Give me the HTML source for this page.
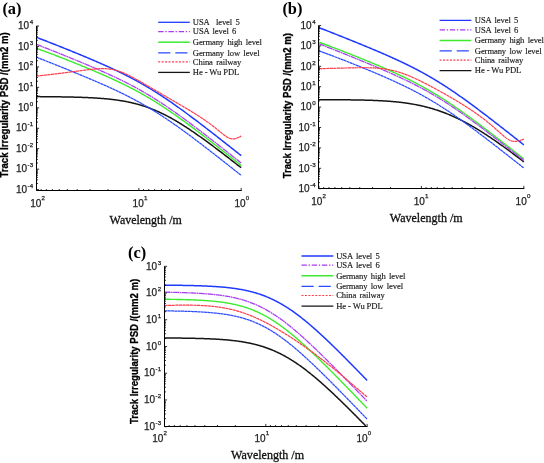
<!DOCTYPE html>
<html><head><meta charset="utf-8"><style>
html,body{margin:0;padding:0;background:#fff;}
svg{display:block;}
.tk{font-family:"Liberation Sans",sans-serif;font-size:10px;fill:#222;stroke:#222;stroke-width:0.25px;}
.sup{font-size:6.2px;}
.lg{font-family:"Liberation Serif",serif;font-size:8.6px;fill:#1a1a1a;stroke:#1a1a1a;stroke-width:0.15px;word-spacing:1.3px;letter-spacing:-0.1px;}
.pl{font-family:"Liberation Serif",serif;font-size:16.4px;font-weight:bold;fill:#000;}
.xt{font-family:"Liberation Serif",serif;font-size:12.4px;fill:#111;stroke:#111;stroke-width:0.3px;}
.yt{font-family:"Liberation Sans",sans-serif;font-size:10.5px;font-weight:bold;fill:#000;stroke:#000;stroke-width:0.3px;}
</style></head><body>
<svg width="544" height="463" viewBox="0 0 544 463">
<rect width="544" height="463" fill="#fff"/>
<polyline points="36.50,96.59 37.18,96.60 37.87,96.60 38.55,96.61 39.24,96.61 39.92,96.62 40.61,96.63 41.29,96.63 41.98,96.64 42.66,96.64 43.35,96.65 44.03,96.66 44.72,96.66 45.40,96.67 46.08,96.68 46.77,96.68 47.45,96.69 48.14,96.70 48.82,96.71 49.51,96.71 50.19,96.72 50.88,96.73 51.56,96.74 52.25,96.75 52.93,96.75 53.62,96.76 54.30,96.77 54.98,96.78 55.67,96.79 56.35,96.80 57.04,96.81 57.72,96.82 58.41,96.83 59.09,96.84 59.78,96.85 60.46,96.86 61.15,96.87 61.83,96.88 62.52,96.89 63.20,96.91 63.88,96.92 64.57,96.93 65.25,96.94 65.94,96.96 66.62,96.97 67.31,96.98 67.99,97.00 68.68,97.01 69.36,97.03 70.05,97.04 70.73,97.06 71.42,97.07 72.10,97.09 72.78,97.11 73.47,97.12 74.15,97.14 74.84,97.16 75.52,97.18 76.21,97.20 76.89,97.22 77.58,97.24 78.26,97.26 78.95,97.28 79.63,97.30 80.32,97.33 81.00,97.35 81.68,97.37 82.37,97.40 83.05,97.42 83.74,97.45 84.42,97.48 85.11,97.50 85.79,97.53 86.48,97.56 87.16,97.59 87.85,97.62 88.53,97.65 89.22,97.68 89.90,97.72 90.58,97.75 91.27,97.79 91.95,97.82 92.64,97.86 93.32,97.90 94.01,97.94 94.69,97.98 95.38,98.02 96.06,98.06 96.75,98.10 97.43,98.15 98.12,98.19 98.80,98.24 99.48,98.29 100.17,98.34 100.85,98.39 101.54,98.44 102.22,98.50 102.91,98.55 103.59,98.61 104.28,98.67 104.96,98.73 105.65,98.79 106.33,98.85 107.02,98.92 107.70,98.99 108.38,99.05 109.07,99.12 109.75,99.20 110.44,99.27 111.12,99.35 111.81,99.43 112.49,99.51 113.18,99.59 113.86,99.67 114.55,99.76 115.23,99.85 115.92,99.94 116.60,100.03 117.28,100.13 117.97,100.22 118.65,100.32 119.34,100.43 120.02,100.53 120.71,100.64 121.39,100.75 122.08,100.86 122.76,100.98 123.45,101.10 124.13,101.22 124.82,101.34 125.50,101.47 126.18,101.60 126.87,101.73 127.55,101.87 128.24,102.01 128.92,102.15 129.61,102.30 130.29,102.44 130.98,102.60 131.66,102.75 132.35,102.91 133.03,103.07 133.72,103.24 134.40,103.41 135.08,103.58 135.77,103.76 136.45,103.93 137.14,104.12 137.82,104.30 138.51,104.49 139.19,104.69 139.88,104.89 140.56,105.09 141.25,105.29 141.93,105.50 142.62,105.72 143.30,105.93 143.98,106.16 144.67,106.38 145.35,106.61 146.04,106.84 146.72,107.08 147.41,107.32 148.09,107.56 148.78,107.81 149.46,108.07 150.15,108.32 150.83,108.59 151.52,108.85 152.20,109.12 152.88,109.39 153.57,109.67 154.25,109.95 154.94,110.24 155.62,110.53 156.31,110.82 156.99,111.12 157.68,111.42 158.36,111.73 159.05,112.04 159.73,112.35 160.42,112.67 161.10,112.99 161.78,113.32 162.47,113.65 163.15,113.98 163.84,114.32 164.52,114.66 165.21,115.00 165.89,115.35 166.58,115.71 167.26,116.06 167.95,116.42 168.63,116.79 169.32,117.15 170.00,117.52 170.68,117.90 171.37,118.28 172.05,118.66 172.74,119.04 173.42,119.43 174.11,119.82 174.79,120.22 175.48,120.62 176.16,121.02 176.85,121.42 177.53,121.83 178.22,122.24 178.90,122.66 179.58,123.07 180.27,123.49 180.95,123.91 181.64,124.34 182.32,124.77 183.01,125.20 183.69,125.63 184.38,126.07 185.06,126.51 185.75,126.95 186.43,127.40 187.12,127.84 187.80,128.29 188.48,128.74 189.17,129.20 189.85,129.65 190.54,130.11 191.22,130.57 191.91,131.04 192.59,131.50 193.28,131.97 193.96,132.44 194.65,132.91 195.33,133.38 196.02,133.86 196.70,134.33 197.38,134.81 198.07,135.29 198.75,135.77 199.44,136.26 200.12,136.74 200.81,137.23 201.49,137.72 202.18,138.21 202.86,138.70 203.55,139.19 204.23,139.69 204.92,140.18 205.60,140.68 206.28,141.18 206.97,141.68 207.65,142.18 208.34,142.68 209.02,143.19 209.71,143.69 210.39,144.20 211.08,144.71 211.76,145.21 212.45,145.72 213.13,146.23 213.82,146.75 214.50,147.26 215.18,147.77 215.87,148.29 216.55,148.80 217.24,149.32 217.92,149.83 218.61,150.35 219.29,150.87 219.98,151.39 220.66,151.91 221.35,152.43 222.03,152.95 222.72,153.47 223.40,153.99 224.08,154.52 224.77,155.04 225.45,155.57 226.14,156.09 226.82,156.62 227.51,157.14 228.19,157.67 228.88,158.20 229.56,158.73 230.25,159.26 230.93,159.78 231.62,160.31 232.30,160.84 232.98,161.37 233.67,161.91 234.35,162.44 235.04,162.97 235.72,163.50 236.41,164.03 237.09,164.57 237.78,165.10 238.46,165.63 239.15,166.17 239.83,166.70 240.52,167.24 241.20,167.77" fill="none" stroke="#151515" stroke-width="1.5" stroke-linejoin="round"/>
<polyline points="36.50,57.23 37.18,57.50 37.87,57.77 38.55,58.04 39.24,58.31 39.92,58.57 40.61,58.84 41.29,59.11 41.98,59.38 42.66,59.65 43.35,59.92 44.03,60.19 44.72,60.46 45.40,60.73 46.08,61.00 46.77,61.27 47.45,61.54 48.14,61.82 48.82,62.09 49.51,62.36 50.19,62.63 50.88,62.90 51.56,63.18 52.25,63.45 52.93,63.72 53.62,63.99 54.30,64.27 54.98,64.54 55.67,64.82 56.35,65.09 57.04,65.36 57.72,65.64 58.41,65.91 59.09,66.19 59.78,66.46 60.46,66.74 61.15,67.01 61.83,67.29 62.52,67.57 63.20,67.84 63.88,68.12 64.57,68.40 65.25,68.67 65.94,68.95 66.62,69.23 67.31,69.50 67.99,69.78 68.68,70.06 69.36,70.34 70.05,70.62 70.73,70.90 71.42,71.18 72.10,71.46 72.78,71.74 73.47,72.02 74.15,72.30 74.84,72.58 75.52,72.86 76.21,73.14 76.89,73.42 77.58,73.71 78.26,73.99 78.95,74.27 79.63,74.55 80.32,74.84 81.00,75.12 81.68,75.41 82.37,75.69 83.05,75.98 83.74,76.26 84.42,76.55 85.11,76.83 85.79,77.12 86.48,77.41 87.16,77.70 87.85,77.98 88.53,78.27 89.22,78.56 89.90,78.85 90.58,79.14 91.27,79.43 91.95,79.72 92.64,80.02 93.32,80.31 94.01,80.60 94.69,80.90 95.38,81.19 96.06,81.48 96.75,81.78 97.43,82.08 98.12,82.37 98.80,82.67 99.48,82.97 100.17,83.27 100.85,83.57 101.54,83.87 102.22,84.17 102.91,84.47 103.59,84.78 104.28,85.08 104.96,85.38 105.65,85.69 106.33,86.00 107.02,86.30 107.70,86.61 108.38,86.92 109.07,87.23 109.75,87.54 110.44,87.86 111.12,88.17 111.81,88.48 112.49,88.80 113.18,89.12 113.86,89.43 114.55,89.75 115.23,90.07 115.92,90.39 116.60,90.72 117.28,91.04 117.97,91.37 118.65,91.69 119.34,92.02 120.02,92.35 120.71,92.68 121.39,93.01 122.08,93.35 122.76,93.68 123.45,94.02 124.13,94.36 124.82,94.70 125.50,95.04 126.18,95.38 126.87,95.72 127.55,96.07 128.24,96.42 128.92,96.77 129.61,97.12 130.29,97.47 130.98,97.82 131.66,98.18 132.35,98.54 133.03,98.90 133.72,99.26 134.40,99.62 135.08,99.99 135.77,100.36 136.45,100.73 137.14,101.10 137.82,101.47 138.51,101.84 139.19,102.22 139.88,102.60 140.56,102.98 141.25,103.37 141.93,103.75 142.62,104.14 143.30,104.53 143.98,104.92 144.67,105.31 145.35,105.71 146.04,106.10 146.72,106.50 147.41,106.91 148.09,107.31 148.78,107.72 149.46,108.12 150.15,108.53 150.83,108.95 151.52,109.36 152.20,109.78 152.88,110.19 153.57,110.62 154.25,111.04 154.94,111.46 155.62,111.89 156.31,112.32 156.99,112.75 157.68,113.18 158.36,113.62 159.05,114.06 159.73,114.50 160.42,114.94 161.10,115.38 161.78,115.82 162.47,116.27 163.15,116.72 163.84,117.17 164.52,117.63 165.21,118.08 165.89,118.54 166.58,119.00 167.26,119.46 167.95,119.92 168.63,120.38 169.32,120.85 170.00,121.32 170.68,121.79 171.37,122.26 172.05,122.73 172.74,123.20 173.42,123.68 174.11,124.16 174.79,124.64 175.48,125.12 176.16,125.60 176.85,126.08 177.53,126.57 178.22,127.06 178.90,127.54 179.58,128.03 180.27,128.53 180.95,129.02 181.64,129.51 182.32,130.01 183.01,130.50 183.69,131.00 184.38,131.50 185.06,132.00 185.75,132.50 186.43,133.00 187.12,133.51 187.80,134.01 188.48,134.52 189.17,135.03 189.85,135.53 190.54,136.04 191.22,136.55 191.91,137.06 192.59,137.58 193.28,138.09 193.96,138.60 194.65,139.12 195.33,139.63 196.02,140.15 196.70,140.67 197.38,141.19 198.07,141.70 198.75,142.22 199.44,142.74 200.12,143.27 200.81,143.79 201.49,144.31 202.18,144.83 202.86,145.36 203.55,145.88 204.23,146.41 204.92,146.93 205.60,147.46 206.28,147.99 206.97,148.52 207.65,149.04 208.34,149.57 209.02,150.10 209.71,150.63 210.39,151.16 211.08,151.69 211.76,152.22 212.45,152.76 213.13,153.29 213.82,153.82 214.50,154.35 215.18,154.89 215.87,155.42 216.55,155.96 217.24,156.49 217.92,157.03 218.61,157.56 219.29,158.10 219.98,158.63 220.66,159.17 221.35,159.71 222.03,160.25 222.72,160.78 223.40,161.32 224.08,161.86 224.77,162.40 225.45,162.94 226.14,163.47 226.82,164.01 227.51,164.55 228.19,165.09 228.88,165.63 229.56,166.17 230.25,166.71 230.93,167.25 231.62,167.79 232.30,168.34 232.98,168.88 233.67,169.42 234.35,169.96 235.04,170.50 235.72,171.04 236.41,171.59 237.09,172.13 237.78,172.67 238.46,173.21 239.15,173.76 239.83,174.30 240.52,174.84 241.20,175.38" fill="none" stroke="#2a4aff" stroke-width="1.25" stroke-dasharray="3 0.3" stroke-linejoin="round"/>
<polyline points="36.50,48.39 37.18,48.63 37.87,48.88 38.55,49.12 39.24,49.37 39.92,49.61 40.61,49.86 41.29,50.11 41.98,50.36 42.66,50.60 43.35,50.85 44.03,51.11 44.72,51.36 45.40,51.61 46.08,51.86 46.77,52.12 47.45,52.37 48.14,52.62 48.82,52.88 49.51,53.14 50.19,53.39 50.88,53.65 51.56,53.91 52.25,54.17 52.93,54.43 53.62,54.69 54.30,54.95 54.98,55.21 55.67,55.47 56.35,55.73 57.04,56.00 57.72,56.26 58.41,56.52 59.09,56.79 59.78,57.05 60.46,57.32 61.15,57.58 61.83,57.85 62.52,58.12 63.20,58.38 63.88,58.65 64.57,58.92 65.25,59.19 65.94,59.46 66.62,59.73 67.31,60.00 67.99,60.27 68.68,60.54 69.36,60.81 70.05,61.08 70.73,61.36 71.42,61.63 72.10,61.90 72.78,62.18 73.47,62.45 74.15,62.73 74.84,63.00 75.52,63.28 76.21,63.55 76.89,63.83 77.58,64.11 78.26,64.38 78.95,64.66 79.63,64.94 80.32,65.22 81.00,65.50 81.68,65.78 82.37,66.06 83.05,66.34 83.74,66.62 84.42,66.90 85.11,67.19 85.79,67.47 86.48,67.75 87.16,68.04 87.85,68.32 88.53,68.61 89.22,68.89 89.90,69.18 90.58,69.47 91.27,69.75 91.95,70.04 92.64,70.33 93.32,70.62 94.01,70.91 94.69,71.20 95.38,71.49 96.06,71.78 96.75,72.08 97.43,72.37 98.12,72.66 98.80,72.96 99.48,73.25 100.17,73.55 100.85,73.85 101.54,74.15 102.22,74.45 102.91,74.75 103.59,75.05 104.28,75.35 104.96,75.65 105.65,75.95 106.33,76.26 107.02,76.56 107.70,76.87 108.38,77.18 109.07,77.48 109.75,77.79 110.44,78.10 111.12,78.41 111.81,78.73 112.49,79.04 113.18,79.36 113.86,79.67 114.55,79.99 115.23,80.31 115.92,80.63 116.60,80.95 117.28,81.27 117.97,81.59 118.65,81.92 119.34,82.24 120.02,82.57 120.71,82.90 121.39,83.23 122.08,83.56 122.76,83.89 123.45,84.23 124.13,84.56 124.82,84.90 125.50,85.24 126.18,85.58 126.87,85.92 127.55,86.27 128.24,86.61 128.92,86.96 129.61,87.31 130.29,87.66 130.98,88.01 131.66,88.36 132.35,88.72 133.03,89.08 133.72,89.44 134.40,89.80 135.08,90.16 135.77,90.53 136.45,90.90 137.14,91.26 137.82,91.64 138.51,92.01 139.19,92.38 139.88,92.76 140.56,93.14 141.25,93.52 141.93,93.90 142.62,94.29 143.30,94.68 143.98,95.06 144.67,95.46 145.35,95.85 146.04,96.24 146.72,96.64 147.41,97.04 148.09,97.44 148.78,97.85 149.46,98.25 150.15,98.66 150.83,99.07 151.52,99.48 152.20,99.90 152.88,100.32 153.57,100.73 154.25,101.15 154.94,101.58 155.62,102.00 156.31,102.43 156.99,102.86 157.68,103.29 158.36,103.72 159.05,104.16 159.73,104.60 160.42,105.04 161.10,105.48 161.78,105.92 162.47,106.37 163.15,106.81 163.84,107.26 164.52,107.72 165.21,108.17 165.89,108.62 166.58,109.08 167.26,109.54 167.95,110.00 168.63,110.46 169.32,110.93 170.00,111.39 170.68,111.86 171.37,112.33 172.05,112.80 172.74,113.28 173.42,113.75 174.11,114.23 174.79,114.71 175.48,115.19 176.16,115.67 176.85,116.15 177.53,116.63 178.22,117.12 178.90,117.61 179.58,118.10 180.27,118.59 180.95,119.08 181.64,119.57 182.32,120.07 183.01,120.56 183.69,121.06 184.38,121.56 185.06,122.06 185.75,122.56 186.43,123.06 187.12,123.56 187.80,124.07 188.48,124.57 189.17,125.08 189.85,125.59 190.54,126.09 191.22,126.60 191.91,127.11 192.59,127.63 193.28,128.14 193.96,128.65 194.65,129.17 195.33,129.68 196.02,130.20 196.70,130.72 197.38,131.23 198.07,131.75 198.75,132.27 199.44,132.79 200.12,133.31 200.81,133.84 201.49,134.36 202.18,134.88 202.86,135.41 203.55,135.93 204.23,136.46 204.92,136.98 205.60,137.51 206.28,138.04 206.97,138.56 207.65,139.09 208.34,139.62 209.02,140.15 209.71,140.68 210.39,141.21 211.08,141.74 211.76,142.28 212.45,142.81 213.13,143.34 213.82,143.87 214.50,144.41 215.18,144.94 215.87,145.48 216.55,146.01 217.24,146.55 217.92,147.08 218.61,147.62 219.29,148.15 219.98,148.69 220.66,149.23 221.35,149.76 222.03,150.30 222.72,150.84 223.40,151.38 224.08,151.92 224.77,152.46 225.45,153.00 226.14,153.54 226.82,154.08 227.51,154.62 228.19,155.16 228.88,155.70 229.56,156.24 230.25,156.78 230.93,157.32 231.62,157.86 232.30,158.40 232.98,158.94 233.67,159.49 234.35,160.03 235.04,160.57 235.72,161.11 236.41,161.66 237.09,162.20 237.78,162.74 238.46,163.29 239.15,163.83 239.83,164.37 240.52,164.92 241.20,165.46" fill="none" stroke="#3cec2c" stroke-width="1.4" stroke-linejoin="round"/>
<polyline points="36.50,44.38 37.18,44.64 37.87,44.91 38.55,45.18 39.24,45.45 39.92,45.71 40.61,45.98 41.29,46.25 41.98,46.52 42.66,46.79 43.35,47.06 44.03,47.33 44.72,47.59 45.40,47.86 46.08,48.13 46.77,48.41 47.45,48.68 48.14,48.95 48.82,49.22 49.51,49.49 50.19,49.76 50.88,50.03 51.56,50.31 52.25,50.58 52.93,50.85 53.62,51.12 54.30,51.40 54.98,51.67 55.67,51.94 56.35,52.22 57.04,52.49 57.72,52.77 58.41,53.04 59.09,53.31 59.78,53.59 60.46,53.87 61.15,54.14 61.83,54.42 62.52,54.69 63.20,54.97 63.88,55.25 64.57,55.52 65.25,55.80 65.94,56.08 66.62,56.35 67.31,56.63 67.99,56.91 68.68,57.19 69.36,57.47 70.05,57.75 70.73,58.03 71.42,58.31 72.10,58.59 72.78,58.87 73.47,59.15 74.15,59.43 74.84,59.71 75.52,59.99 76.21,60.27 76.89,60.56 77.58,60.84 78.26,61.12 78.95,61.40 79.63,61.69 80.32,61.97 81.00,62.26 81.68,62.54 82.37,62.83 83.05,63.11 83.74,63.40 84.42,63.69 85.11,63.97 85.79,64.26 86.48,64.55 87.16,64.84 87.85,65.13 88.53,65.42 89.22,65.71 89.90,66.00 90.58,66.29 91.27,66.58 91.95,66.87 92.64,67.16 93.32,67.46 94.01,67.75 94.69,68.05 95.38,68.34 96.06,68.64 96.75,68.94 97.43,69.23 98.12,69.53 98.80,69.83 99.48,70.13 100.17,70.43 100.85,70.73 101.54,71.03 102.22,71.34 102.91,71.64 103.59,71.95 104.28,72.25 104.96,72.56 105.65,72.86 106.33,73.17 107.02,73.48 107.70,73.79 108.38,74.10 109.07,74.42 109.75,74.73 110.44,75.04 111.12,75.36 111.81,75.68 112.49,75.99 113.18,76.31 113.86,76.63 114.55,76.95 115.23,77.28 115.92,77.60 116.60,77.92 117.28,78.25 117.97,78.58 118.65,78.91 119.34,79.24 120.02,79.57 120.71,79.90 121.39,80.24 122.08,80.58 122.76,80.91 123.45,81.25 124.13,81.59 124.82,81.94 125.50,82.28 126.18,82.63 126.87,82.97 127.55,83.32 128.24,83.67 128.92,84.03 129.61,84.38 130.29,84.74 130.98,85.09 131.66,85.45 132.35,85.81 133.03,86.18 133.72,86.54 134.40,86.91 135.08,87.28 135.77,87.65 136.45,88.02 137.14,88.40 137.82,88.78 138.51,89.15 139.19,89.53 139.88,89.92 140.56,90.30 141.25,90.69 141.93,91.08 142.62,91.47 143.30,91.86 143.98,92.26 144.67,92.66 145.35,93.05 146.04,93.46 146.72,93.86 147.41,94.27 148.09,94.67 148.78,95.08 149.46,95.50 150.15,95.91 150.83,96.33 151.52,96.74 152.20,97.16 152.88,97.59 153.57,98.01 154.25,98.44 154.94,98.87 155.62,99.30 156.31,99.73 156.99,100.17 157.68,100.60 158.36,101.04 159.05,101.48 159.73,101.93 160.42,102.37 161.10,102.82 161.78,103.27 162.47,103.72 163.15,104.17 163.84,104.63 164.52,105.08 165.21,105.54 165.89,106.00 166.58,106.46 167.26,106.93 167.95,107.39 168.63,107.86 169.32,108.33 170.00,108.80 170.68,109.27 171.37,109.75 172.05,110.22 172.74,110.70 173.42,111.18 174.11,111.66 174.79,112.14 175.48,112.63 176.16,113.11 176.85,113.60 177.53,114.09 178.22,114.58 178.90,115.07 179.58,115.56 180.27,116.05 180.95,116.55 181.64,117.04 182.32,117.54 183.01,118.04 183.69,118.54 184.38,119.04 185.06,119.54 185.75,120.05 186.43,120.55 187.12,121.06 187.80,121.56 188.48,122.07 189.17,122.58 189.85,123.09 190.54,123.60 191.22,124.11 191.91,124.63 192.59,125.14 193.28,125.66 193.96,126.17 194.65,126.69 195.33,127.20 196.02,127.72 196.70,128.24 197.38,128.76 198.07,129.28 198.75,129.80 199.44,130.32 200.12,130.85 200.81,131.37 201.49,131.89 202.18,132.42 202.86,132.94 203.55,133.47 204.23,134.00 204.92,134.52 205.60,135.05 206.28,135.58 206.97,136.11 207.65,136.64 208.34,137.17 209.02,137.70 209.71,138.23 210.39,138.76 211.08,139.29 211.76,139.82 212.45,140.36 213.13,140.89 213.82,141.42 214.50,141.96 215.18,142.49 215.87,143.03 216.55,143.56 217.24,144.10 217.92,144.63 218.61,145.17 219.29,145.70 219.98,146.24 220.66,146.78 221.35,147.32 222.03,147.85 222.72,148.39 223.40,148.93 224.08,149.47 224.77,150.01 225.45,150.55 226.14,151.08 226.82,151.62 227.51,152.16 228.19,152.70 228.88,153.24 229.56,153.78 230.25,154.33 230.93,154.87 231.62,155.41 232.30,155.95 232.98,156.49 233.67,157.03 234.35,157.57 235.04,158.12 235.72,158.66 236.41,159.20 237.09,159.74 237.78,160.29 238.46,160.83 239.15,161.37 239.83,161.91 240.52,162.46 241.20,163.00" fill="none" stroke="#aa40f2" stroke-width="1.3" stroke-dasharray="6 0.5 1.6 0.5" stroke-linejoin="round"/>
<polyline points="36.50,37.37 37.18,37.63 37.87,37.89 38.55,38.15 39.24,38.42 39.92,38.68 40.61,38.94 41.29,39.20 41.98,39.47 42.66,39.73 43.35,39.99 44.03,40.26 44.72,40.52 45.40,40.79 46.08,41.05 46.77,41.32 47.45,41.59 48.14,41.85 48.82,42.12 49.51,42.39 50.19,42.66 50.88,42.93 51.56,43.19 52.25,43.46 52.93,43.73 53.62,44.00 54.30,44.27 54.98,44.54 55.67,44.81 56.35,45.08 57.04,45.36 57.72,45.63 58.41,45.90 59.09,46.17 59.78,46.44 60.46,46.72 61.15,46.99 61.83,47.26 62.52,47.54 63.20,47.81 63.88,48.09 64.57,48.36 65.25,48.64 65.94,48.91 66.62,49.19 67.31,49.47 67.99,49.74 68.68,50.02 69.36,50.30 70.05,50.57 70.73,50.85 71.42,51.13 72.10,51.41 72.78,51.69 73.47,51.97 74.15,52.25 74.84,52.53 75.52,52.81 76.21,53.09 76.89,53.37 77.58,53.65 78.26,53.93 78.95,54.21 79.63,54.50 80.32,54.78 81.00,55.06 81.68,55.35 82.37,55.63 83.05,55.92 83.74,56.20 84.42,56.49 85.11,56.77 85.79,57.06 86.48,57.35 87.16,57.64 87.85,57.92 88.53,58.21 89.22,58.50 89.90,58.79 90.58,59.08 91.27,59.37 91.95,59.66 92.64,59.96 93.32,60.25 94.01,60.54 94.69,60.84 95.38,61.13 96.06,61.43 96.75,61.72 97.43,62.02 98.12,62.32 98.80,62.62 99.48,62.91 100.17,63.21 100.85,63.52 101.54,63.82 102.22,64.12 102.91,64.42 103.59,64.73 104.28,65.03 104.96,65.34 105.65,65.64 106.33,65.95 107.02,66.26 107.70,66.57 108.38,66.88 109.07,67.19 109.75,67.50 110.44,67.82 111.12,68.13 111.81,68.45 112.49,68.77 113.18,69.08 113.86,69.40 114.55,69.72 115.23,70.05 115.92,70.37 116.60,70.69 117.28,71.02 117.97,71.35 118.65,71.67 119.34,72.00 120.02,72.34 120.71,72.67 121.39,73.00 122.08,73.34 122.76,73.68 123.45,74.01 124.13,74.35 124.82,74.70 125.50,75.04 126.18,75.38 126.87,75.73 127.55,76.08 128.24,76.43 128.92,76.78 129.61,77.13 130.29,77.49 130.98,77.85 131.66,78.21 132.35,78.57 133.03,78.93 133.72,79.29 134.40,79.66 135.08,80.03 135.77,80.40 136.45,80.77 137.14,81.14 137.82,81.52 138.51,81.90 139.19,82.28 139.88,82.66 140.56,83.04 141.25,83.43 141.93,83.82 142.62,84.21 143.30,84.60 143.98,85.00 144.67,85.39 145.35,85.79 146.04,86.19 146.72,86.59 147.41,87.00 148.09,87.41 148.78,87.81 149.46,88.23 150.15,88.64 150.83,89.05 151.52,89.47 152.20,89.89 152.88,90.31 153.57,90.74 154.25,91.16 154.94,91.59 155.62,92.02 156.31,92.45 156.99,92.89 157.68,93.32 158.36,93.76 159.05,94.20 159.73,94.64 160.42,95.09 161.10,95.53 161.78,95.98 162.47,96.43 163.15,96.88 163.84,97.34 164.52,97.79 165.21,98.25 165.89,98.71 166.58,99.17 167.26,99.63 167.95,100.10 168.63,100.57 169.32,101.03 170.00,101.50 170.68,101.98 171.37,102.45 172.05,102.93 172.74,103.40 173.42,103.88 174.11,104.36 174.79,104.84 175.48,105.32 176.16,105.81 176.85,106.30 177.53,106.78 178.22,107.27 178.90,107.76 179.58,108.25 180.27,108.75 180.95,109.24 181.64,109.74 182.32,110.23 183.01,110.73 183.69,111.23 184.38,111.73 185.06,112.23 185.75,112.74 186.43,113.24 187.12,113.75 187.80,114.25 188.48,114.76 189.17,115.27 189.85,115.78 190.54,116.29 191.22,116.80 191.91,117.31 192.59,117.82 193.28,118.34 193.96,118.85 194.65,119.37 195.33,119.89 196.02,120.40 196.70,120.92 197.38,121.44 198.07,121.96 198.75,122.48 199.44,123.00 200.12,123.53 200.81,124.05 201.49,124.57 202.18,125.10 202.86,125.62 203.55,126.15 204.23,126.67 204.92,127.20 205.60,127.73 206.28,128.25 206.97,128.78 207.65,129.31 208.34,129.84 209.02,130.37 209.71,130.90 210.39,131.43 211.08,131.96 211.76,132.49 212.45,133.03 213.13,133.56 213.82,134.09 214.50,134.63 215.18,135.16 215.87,135.69 216.55,136.23 217.24,136.76 217.92,137.30 218.61,137.84 219.29,138.37 219.98,138.91 220.66,139.44 221.35,139.98 222.03,140.52 222.72,141.06 223.40,141.59 224.08,142.13 224.77,142.67 225.45,143.21 226.14,143.75 226.82,144.29 227.51,144.83 228.19,145.37 228.88,145.91 229.56,146.45 230.25,146.99 230.93,147.53 231.62,148.07 232.30,148.61 232.98,149.15 233.67,149.69 234.35,150.23 235.04,150.78 235.72,151.32 236.41,151.86 237.09,152.40 237.78,152.94 238.46,153.49 239.15,154.03 239.83,154.57 240.52,155.11 241.20,155.66" fill="none" stroke="#1f3aff" stroke-width="1.5" stroke-linejoin="round"/>
<polyline points="36.50,76.16 37.18,76.08 37.87,76.00 38.55,75.92 39.24,75.84 39.92,75.76 40.61,75.67 41.29,75.59 41.98,75.51 42.66,75.43 43.35,75.35 44.03,75.27 44.72,75.19 45.40,75.11 46.08,75.03 46.77,74.95 47.45,74.87 48.14,74.79 48.82,74.70 49.51,74.62 50.19,74.54 50.88,74.46 51.56,74.38 52.25,74.30 52.93,74.22 53.62,74.13 54.30,74.05 54.98,73.97 55.67,73.89 56.35,73.80 57.04,73.72 57.72,73.64 58.41,73.55 59.09,73.47 59.78,73.38 60.46,73.30 61.15,73.22 61.83,73.13 62.52,73.05 63.20,72.96 63.88,72.87 64.57,72.79 65.25,72.70 65.94,72.61 66.62,72.53 67.31,72.44 67.99,72.35 68.68,72.26 69.36,72.17 70.05,72.09 70.73,72.00 71.42,71.91 72.10,71.82 72.78,71.73 73.47,71.64 74.15,71.55 74.84,71.46 75.52,71.37 76.21,71.28 76.89,71.19 77.58,71.09 78.26,71.00 78.95,70.91 79.63,70.82 80.32,70.73 81.00,70.64 81.68,70.55 82.37,70.46 83.05,70.37 83.74,70.28 84.42,70.20 85.11,70.11 85.79,70.02 86.48,69.94 87.16,69.85 87.85,69.77 88.53,69.69 89.22,69.61 89.90,69.53 90.58,69.45 91.27,69.37 91.95,69.30 92.64,69.23 93.32,69.16 94.01,69.10 94.69,69.04 95.38,68.98 96.06,68.92 96.75,68.87 97.43,68.83 98.12,68.78 98.80,68.75 99.48,68.71 100.17,68.69 100.85,68.67 101.54,68.65 102.22,68.64 102.91,68.64 103.59,68.65 104.28,68.66 104.96,68.68 105.65,68.71 106.33,68.75 107.02,68.79 107.70,68.85 108.38,68.91 109.07,68.98 109.75,69.07 110.44,69.16 111.12,69.26 111.81,69.38 112.49,69.50 113.18,69.64 113.86,69.78 114.55,69.94 115.23,70.10 115.92,70.28 116.60,70.47 117.28,70.67 117.97,70.88 118.65,71.09 119.34,71.32 120.02,71.56 120.71,71.81 121.39,72.07 122.08,72.33 122.76,72.61 123.45,72.89 124.13,73.18 124.82,73.48 125.50,73.79 126.18,74.10 126.87,74.42 127.55,74.75 128.24,75.08 128.92,75.42 129.61,75.76 130.29,76.11 130.98,76.46 131.66,76.82 132.35,77.18 133.03,77.55 133.72,77.92 134.40,78.29 135.08,78.67 135.77,79.05 136.45,79.43 137.14,79.81 137.82,80.20 138.51,80.59 139.19,80.98 139.88,81.37 140.56,81.76 141.25,82.15 141.93,82.55 142.62,82.95 143.30,83.34 143.98,83.74 144.67,84.14 145.35,84.54 146.04,84.94 146.72,85.34 147.41,85.74 148.09,86.14 148.78,86.54 149.46,86.94 150.15,87.34 150.83,87.74 151.52,88.14 152.20,88.54 152.88,88.94 153.57,89.34 154.25,89.74 154.94,90.14 155.62,90.54 156.31,90.94 156.99,91.34 157.68,91.74 158.36,92.14 159.05,92.54 159.73,92.94 160.42,93.34 161.10,93.74 161.78,94.13 162.47,94.53 163.15,94.93 163.84,95.33 164.52,95.72 165.21,96.12 165.89,96.52 166.58,96.91 167.26,97.31 167.95,97.71 168.63,98.10 169.32,98.50 170.00,98.89 170.68,99.29 171.37,99.69 172.05,100.08 172.74,100.48 173.42,100.87 174.11,101.27 174.79,101.67 175.48,102.07 176.16,102.46 176.85,102.86 177.53,103.26 178.22,103.66 178.90,104.06 179.58,104.45 180.27,104.85 180.95,105.25 181.64,105.66 182.32,106.06 183.01,106.46 183.69,106.86 184.38,107.27 185.06,107.67 185.75,108.08 186.43,108.49 187.12,108.89 187.80,109.30 188.48,109.71 189.17,110.13 189.85,110.54 190.54,110.96 191.22,111.37 191.91,111.79 192.59,112.21 193.28,112.63 193.96,113.06 194.65,113.48 195.33,113.91 196.02,114.34 196.70,114.77 197.38,115.21 198.07,115.65 198.75,116.09 199.44,116.53 200.12,116.98 200.81,117.43 201.49,117.88 202.18,118.34 202.86,118.80 203.55,119.26 204.23,119.73 204.92,120.20 205.60,120.67 206.28,121.15 206.97,121.64 207.65,122.12 208.34,122.62 209.02,123.11 209.71,123.61 210.39,124.12 211.08,124.63 211.76,125.15 212.45,125.67 213.13,126.20 213.82,126.73 214.50,127.27 215.18,127.81 215.87,128.35 216.55,128.90 217.24,129.46 217.92,130.01 218.61,130.57 219.29,131.13 219.98,131.69 220.66,132.25 221.35,132.80 222.03,133.36 222.72,133.90 223.40,134.44 224.08,134.96 224.77,135.47 225.45,135.96 226.14,136.42 226.82,136.86 227.51,137.27 228.19,137.64 228.88,137.97 229.56,138.25 230.25,138.49 230.93,138.68 231.62,138.81 232.30,138.89 232.98,138.91 233.67,138.88 234.35,138.80 235.04,138.67 235.72,138.49 236.41,138.28 237.09,138.02 237.78,137.74 238.46,137.43 239.15,137.10 239.83,136.75 240.52,136.39 241.20,136.03" fill="none" stroke="#ff3d4c" stroke-width="1.2" stroke-dasharray="3.2 0.4" stroke-linejoin="round"/>
<path d="M36.5,26.0 V190.5 H241.7" fill="none" stroke="#000" stroke-width="1"/>
<path d="M36.5,189.60h2.6 M36.5,183.44h1.5 M36.5,179.84h1.5 M36.5,177.29h1.5 M36.5,175.31h1.5 M36.5,173.69h1.5 M36.5,172.32h1.5 M36.5,171.13h1.5 M36.5,170.09h1.5 M36.5,169.15h2.6 M36.5,162.99h1.5 M36.5,159.39h1.5 M36.5,156.84h1.5 M36.5,154.86h1.5 M36.5,153.24h1.5 M36.5,151.87h1.5 M36.5,150.68h1.5 M36.5,149.64h1.5 M36.5,148.70h2.6 M36.5,142.54h1.5 M36.5,138.94h1.5 M36.5,136.39h1.5 M36.5,134.41h1.5 M36.5,132.79h1.5 M36.5,131.42h1.5 M36.5,130.23h1.5 M36.5,129.19h1.5 M36.5,128.25h2.6 M36.5,122.09h1.5 M36.5,118.49h1.5 M36.5,115.94h1.5 M36.5,113.96h1.5 M36.5,112.34h1.5 M36.5,110.97h1.5 M36.5,109.78h1.5 M36.5,108.74h1.5 M36.5,107.80h2.6 M36.5,101.64h1.5 M36.5,98.04h1.5 M36.5,95.49h1.5 M36.5,93.51h1.5 M36.5,91.89h1.5 M36.5,90.52h1.5 M36.5,89.33h1.5 M36.5,88.29h1.5 M36.5,87.35h2.6 M36.5,81.19h1.5 M36.5,77.59h1.5 M36.5,75.04h1.5 M36.5,73.06h1.5 M36.5,71.44h1.5 M36.5,70.07h1.5 M36.5,68.88h1.5 M36.5,67.84h1.5 M36.5,66.90h2.6 M36.5,60.74h1.5 M36.5,57.14h1.5 M36.5,54.59h1.5 M36.5,52.61h1.5 M36.5,50.99h1.5 M36.5,49.62h1.5 M36.5,48.43h1.5 M36.5,47.39h1.5 M36.5,46.45h2.6 M36.5,40.29h1.5 M36.5,36.69h1.5 M36.5,34.14h1.5 M36.5,32.16h1.5 M36.5,30.54h1.5 M36.5,29.17h1.5 M36.5,27.98h1.5 M36.5,26.94h1.5 M36.5,26.00h2.6 M36.50,190.5v-2.6 M108.04,190.5v-1.5 M90.02,190.5v-1.5 M77.23,190.5v-1.5 M67.31,190.5v-1.5 M59.21,190.5v-1.5 M52.35,190.5v-1.5 M46.42,190.5v-1.5 M41.18,190.5v-1.5 M138.85,190.5v-2.6 M210.39,190.5v-1.5 M192.37,190.5v-1.5 M179.58,190.5v-1.5 M169.66,190.5v-1.5 M161.56,190.5v-1.5 M154.70,190.5v-1.5 M148.77,190.5v-1.5 M143.53,190.5v-1.5 M241.20,190.5v-2.6" fill="none" stroke="#000" stroke-width="0.8"/>
<text x="33.10" y="192.80" text-anchor="end" class="tk">10<tspan dx="0.5" dy="-5.0" class="sup">-4</tspan></text>
<text x="33.10" y="172.35" text-anchor="end" class="tk">10<tspan dx="0.5" dy="-5.0" class="sup">-3</tspan></text>
<text x="33.10" y="151.90" text-anchor="end" class="tk">10<tspan dx="0.5" dy="-5.0" class="sup">-2</tspan></text>
<text x="33.10" y="131.45" text-anchor="end" class="tk">10<tspan dx="0.5" dy="-5.0" class="sup">-1</tspan></text>
<text x="33.10" y="111.00" text-anchor="end" class="tk">10<tspan dx="0.5" dy="-5.0" class="sup">0</tspan></text>
<text x="33.10" y="90.55" text-anchor="end" class="tk">10<tspan dx="0.5" dy="-5.0" class="sup">1</tspan></text>
<text x="33.10" y="70.10" text-anchor="end" class="tk">10<tspan dx="0.5" dy="-5.0" class="sup">2</tspan></text>
<text x="33.10" y="49.65" text-anchor="end" class="tk">10<tspan dx="0.5" dy="-5.0" class="sup">3</tspan></text>
<text x="33.10" y="29.20" text-anchor="end" class="tk">10<tspan dx="0.5" dy="-5.0" class="sup">4</tspan></text>
<text x="30.20" y="206.50" class="tk">10<tspan dx="0.2" dy="-6.6" class="sup">2</tspan></text>
<text x="132.60" y="206.50" class="tk">10<tspan dx="0.2" dy="-6.6" class="sup">1</tspan></text>
<text x="234.50" y="206.50" class="tk">10<tspan dx="0.2" dy="-6.6" class="sup">0</tspan></text>
<line x1="158.2" y1="22.30" x2="189.8" y2="22.30" stroke="#1f3aff" stroke-width="1.3"/>
<text x="192.8" y="25.10" class="lg" xml:space="preserve">USA  level 5</text>
<line x1="158.2" y1="31.60" x2="189.8" y2="31.60" stroke="#aa38f2" stroke-width="1.3" stroke-dasharray="5.4 1.7 1.4 1.7"/>
<text x="192.8" y="34.40" class="lg" xml:space="preserve">USA level 6</text>
<line x1="158.2" y1="42.20" x2="189.8" y2="42.20" stroke="#3cec2c" stroke-width="1.5"/>
<text x="192.8" y="45.00" class="lg" xml:space="preserve">Germany high level</text>
<line x1="158.2" y1="52.80" x2="189.8" y2="52.80" stroke="#2a4aff" stroke-width="1.3" stroke-dasharray="12.2 4.9"/>
<text x="192.8" y="55.60" class="lg" xml:space="preserve">Germany low level</text>
<line x1="158.2" y1="61.90" x2="189.8" y2="61.90" stroke="#ff3d4c" stroke-width="1.2" stroke-dasharray="2 1.45"/>
<text x="192.8" y="64.70" class="lg" xml:space="preserve">China railway</text>
<line x1="158.2" y1="72.40" x2="189.8" y2="72.40" stroke="#151515" stroke-width="1.3"/>
<text x="192.8" y="75.20" class="lg" xml:space="preserve" style="word-spacing:0px">He - Wu PDL</text>
<text x="2.4" y="14.2" class="pl">(a)</text>
<text x="109.6" y="223.7" textLength="72.3" lengthAdjust="spacingAndGlyphs" class="xt">Wavelength /m</text>
<text transform="translate(8.0,104.95) rotate(-90)" x="-72.6" textLength="145.2" lengthAdjust="spacingAndGlyphs" class="yt">Track Irregularity PSD /(mm2 m)</text>
<polyline points="319.00,99.71 319.68,99.71 320.37,99.71 321.05,99.71 321.74,99.71 322.42,99.71 323.11,99.71 323.79,99.71 324.48,99.71 325.16,99.72 325.85,99.72 326.53,99.72 327.22,99.72 327.90,99.72 328.59,99.72 329.27,99.72 329.96,99.73 330.64,99.73 331.33,99.73 332.01,99.73 332.70,99.73 333.38,99.74 334.07,99.74 334.75,99.74 335.44,99.74 336.12,99.75 336.81,99.75 337.49,99.75 338.18,99.76 338.86,99.76 339.55,99.77 340.23,99.77 340.92,99.78 341.60,99.78 342.29,99.79 342.97,99.79 343.66,99.80 344.34,99.80 345.03,99.81 345.71,99.81 346.40,99.82 347.08,99.83 347.77,99.84 348.45,99.84 349.14,99.85 349.82,99.86 350.51,99.87 351.19,99.88 351.88,99.88 352.56,99.89 353.25,99.90 353.93,99.91 354.62,99.92 355.30,99.94 355.99,99.95 356.67,99.96 357.36,99.97 358.04,99.98 358.73,100.00 359.41,100.01 360.10,100.02 360.78,100.04 361.47,100.05 362.15,100.07 362.84,100.08 363.52,100.10 364.21,100.12 364.89,100.13 365.58,100.15 366.26,100.17 366.95,100.19 367.63,100.21 368.32,100.23 369.00,100.25 369.69,100.28 370.37,100.30 371.06,100.32 371.74,100.35 372.43,100.37 373.11,100.40 373.80,100.42 374.48,100.45 375.17,100.48 375.85,100.51 376.54,100.54 377.22,100.57 377.91,100.60 378.59,100.63 379.28,100.67 379.96,100.70 380.65,100.74 381.33,100.77 382.02,100.81 382.70,100.85 383.39,100.89 384.07,100.93 384.76,100.98 385.44,101.02 386.13,101.06 386.81,101.11 387.49,101.16 388.18,101.21 388.86,101.26 389.55,101.31 390.23,101.36 390.92,101.42 391.60,101.47 392.29,101.53 392.97,101.59 393.66,101.65 394.34,101.71 395.03,101.78 395.71,101.84 396.40,101.91 397.08,101.98 397.77,102.05 398.45,102.12 399.14,102.19 399.82,102.27 400.51,102.35 401.19,102.43 401.88,102.51 402.56,102.60 403.25,102.68 403.93,102.77 404.62,102.86 405.30,102.95 405.99,103.05 406.67,103.14 407.36,103.24 408.04,103.35 408.73,103.45 409.41,103.56 410.10,103.66 410.78,103.78 411.47,103.89 412.15,104.00 412.84,104.12 413.52,104.24 414.21,104.37 414.89,104.49 415.58,104.62 416.26,104.76 416.95,104.89 417.63,105.03 418.32,105.17 419.00,105.31 419.69,105.45 420.37,105.60 421.06,105.75 421.74,105.91 422.43,106.07 423.11,106.23 423.80,106.39 424.48,106.56 425.17,106.72 425.85,106.90 426.54,107.07 427.22,107.25 427.91,107.43 428.59,107.62 429.28,107.80 429.96,107.99 430.65,108.19 431.33,108.39 432.02,108.59 432.70,108.79 433.39,109.00 434.07,109.21 434.76,109.42 435.44,109.64 436.13,109.86 436.81,110.08 437.50,110.31 438.18,110.54 438.87,110.77 439.55,111.01 440.24,111.25 440.92,111.49 441.61,111.74 442.29,111.99 442.98,112.24 443.66,112.50 444.35,112.76 445.03,113.02 445.72,113.29 446.40,113.56 447.09,113.83 447.77,114.11 448.46,114.39 449.14,114.67 449.83,114.96 450.51,115.25 451.20,115.55 451.88,115.84 452.57,116.14 453.25,116.45 453.94,116.75 454.62,117.07 455.31,117.38 455.99,117.70 456.67,118.02 457.36,118.34 458.04,118.67 458.73,119.00 459.41,119.33 460.10,119.67 460.78,120.01 461.47,120.35 462.15,120.70 462.84,121.05 463.52,121.40 464.21,121.76 464.89,122.12 465.58,122.48 466.26,122.85 466.95,123.22 467.63,123.59 468.32,123.97 469.00,124.34 469.69,124.73 470.37,125.11 471.06,125.50 471.74,125.89 472.43,126.28 473.11,126.68 473.80,127.07 474.48,127.48 475.17,127.88 475.85,128.29 476.54,128.70 477.22,129.11 477.91,129.53 478.59,129.94 479.28,130.36 479.96,130.79 480.65,131.21 481.33,131.64 482.02,132.07 482.70,132.51 483.39,132.94 484.07,133.38 484.76,133.82 485.44,134.27 486.13,134.71 486.81,135.16 487.50,135.61 488.18,136.06 488.87,136.51 489.55,136.97 490.24,137.43 490.92,137.89 491.61,138.35 492.29,138.82 492.98,139.28 493.66,139.75 494.35,140.22 495.03,140.70 495.72,141.17 496.40,141.65 497.09,142.12 497.77,142.60 498.46,143.08 499.14,143.57 499.83,144.05 500.51,144.54 501.20,145.03 501.88,145.52 502.57,146.01 503.25,146.50 503.94,146.99 504.62,147.49 505.31,147.98 505.99,148.48 506.68,148.98 507.36,149.48 508.05,149.98 508.73,150.48 509.42,150.99 510.10,151.49 510.79,152.00 511.47,152.51 512.16,153.02 512.84,153.53 513.53,154.04 514.21,154.55 514.90,155.06 515.58,155.57 516.27,156.09 516.95,156.60 517.64,157.12 518.32,157.64 519.01,158.16 519.69,158.67 520.38,159.19 521.06,159.72 521.75,160.24 522.43,160.76 523.12,161.28 523.80,161.81" fill="none" stroke="#151515" stroke-width="1.5" stroke-linejoin="round"/>
<polyline points="319.00,50.91 319.68,51.15 320.37,51.40 321.05,51.64 321.74,51.89 322.42,52.14 323.11,52.39 323.79,52.64 324.48,52.89 325.16,53.14 325.85,53.39 326.53,53.64 327.22,53.89 327.90,54.15 328.59,54.40 329.27,54.66 329.96,54.91 330.64,55.17 331.33,55.43 332.01,55.69 332.70,55.94 333.38,56.20 334.07,56.46 334.75,56.72 335.44,56.98 336.12,57.24 336.81,57.51 337.49,57.77 338.18,58.03 338.86,58.29 339.55,58.56 340.23,58.82 340.92,59.09 341.60,59.35 342.29,59.62 342.97,59.89 343.66,60.15 344.34,60.42 345.03,60.69 345.71,60.96 346.40,61.22 347.08,61.49 347.77,61.76 348.45,62.03 349.14,62.30 349.82,62.57 350.51,62.85 351.19,63.12 351.88,63.39 352.56,63.66 353.25,63.94 353.93,64.21 354.62,64.48 355.30,64.76 355.99,65.03 356.67,65.31 357.36,65.58 358.04,65.86 358.73,66.14 359.41,66.41 360.10,66.69 360.78,66.97 361.47,67.25 362.15,67.53 362.84,67.81 363.52,68.09 364.21,68.37 364.89,68.65 365.58,68.93 366.26,69.21 366.95,69.49 367.63,69.78 368.32,70.06 369.00,70.35 369.69,70.63 370.37,70.92 371.06,71.20 371.74,71.49 372.43,71.77 373.11,72.06 373.80,72.35 374.48,72.64 375.17,72.93 375.85,73.22 376.54,73.51 377.22,73.80 377.91,74.09 378.59,74.38 379.28,74.68 379.96,74.97 380.65,75.27 381.33,75.56 382.02,75.86 382.70,76.16 383.39,76.45 384.07,76.75 384.76,77.05 385.44,77.35 386.13,77.65 386.81,77.95 387.49,78.26 388.18,78.56 388.86,78.87 389.55,79.17 390.23,79.48 390.92,79.79 391.60,80.10 392.29,80.41 392.97,80.72 393.66,81.03 394.34,81.34 395.03,81.66 395.71,81.97 396.40,82.29 397.08,82.61 397.77,82.93 398.45,83.25 399.14,83.57 399.82,83.89 400.51,84.21 401.19,84.54 401.88,84.87 402.56,85.19 403.25,85.52 403.93,85.86 404.62,86.19 405.30,86.52 405.99,86.86 406.67,87.19 407.36,87.53 408.04,87.87 408.73,88.21 409.41,88.56 410.10,88.90 410.78,89.25 411.47,89.60 412.15,89.95 412.84,90.30 413.52,90.65 414.21,91.01 414.89,91.37 415.58,91.73 416.26,92.09 416.95,92.45 417.63,92.81 418.32,93.18 419.00,93.55 419.69,93.92 420.37,94.29 421.06,94.67 421.74,95.04 422.43,95.42 423.11,95.80 423.80,96.18 424.48,96.57 425.17,96.95 425.85,97.34 426.54,97.73 427.22,98.13 427.91,98.52 428.59,98.92 429.28,99.32 429.96,99.72 430.65,100.12 431.33,100.53 432.02,100.93 432.70,101.34 433.39,101.75 434.07,102.17 434.76,102.58 435.44,103.00 436.13,103.42 436.81,103.84 437.50,104.27 438.18,104.69 438.87,105.12 439.55,105.55 440.24,105.98 440.92,106.42 441.61,106.85 442.29,107.29 442.98,107.73 443.66,108.18 444.35,108.62 445.03,109.07 445.72,109.52 446.40,109.97 447.09,110.42 447.77,110.87 448.46,111.33 449.14,111.79 449.83,112.24 450.51,112.71 451.20,113.17 451.88,113.63 452.57,114.10 453.25,114.57 453.94,115.04 454.62,115.51 455.31,115.98 455.99,116.46 456.67,116.94 457.36,117.41 458.04,117.89 458.73,118.38 459.41,118.86 460.10,119.34 460.78,119.83 461.47,120.32 462.15,120.80 462.84,121.29 463.52,121.79 464.21,122.28 464.89,122.77 465.58,123.27 466.26,123.76 466.95,124.26 467.63,124.76 468.32,125.26 469.00,125.76 469.69,126.27 470.37,126.77 471.06,127.27 471.74,127.78 472.43,128.29 473.11,128.79 473.80,129.30 474.48,129.81 475.17,130.32 475.85,130.83 476.54,131.35 477.22,131.86 477.91,132.37 478.59,132.89 479.28,133.41 479.96,133.92 480.65,134.44 481.33,134.96 482.02,135.48 482.70,136.00 483.39,136.52 484.07,137.04 484.76,137.56 485.44,138.08 486.13,138.61 486.81,139.13 487.50,139.66 488.18,140.18 488.87,140.71 489.55,141.23 490.24,141.76 490.92,142.29 491.61,142.81 492.29,143.34 492.98,143.87 493.66,144.40 494.35,144.93 495.03,145.46 495.72,145.99 496.40,146.52 497.09,147.05 497.77,147.59 498.46,148.12 499.14,148.65 499.83,149.18 500.51,149.72 501.20,150.25 501.88,150.79 502.57,151.32 503.25,151.86 503.94,152.39 504.62,152.93 505.31,153.46 505.99,154.00 506.68,154.53 507.36,155.07 508.05,155.61 508.73,156.15 509.42,156.68 510.10,157.22 510.79,157.76 511.47,158.30 512.16,158.83 512.84,159.37 513.53,159.91 514.21,160.45 514.90,160.99 515.58,161.53 516.27,162.07 516.95,162.61 517.64,163.15 518.32,163.69 519.01,164.23 519.69,164.77 520.38,165.31 521.06,165.85 521.75,166.39 522.43,166.93 523.12,167.47 523.80,168.02" fill="none" stroke="#2a4aff" stroke-width="1.25" stroke-dasharray="3 0.3" stroke-linejoin="round"/>
<polyline points="319.00,42.24 319.68,42.48 320.37,42.73 321.05,42.98 321.74,43.23 322.42,43.48 323.11,43.73 323.79,43.98 324.48,44.23 325.16,44.48 325.85,44.73 326.53,44.99 327.22,45.24 327.90,45.50 328.59,45.75 329.27,46.01 329.96,46.27 330.64,46.52 331.33,46.78 332.01,47.04 332.70,47.30 333.38,47.56 334.07,47.82 334.75,48.08 335.44,48.34 336.12,48.60 336.81,48.86 337.49,49.13 338.18,49.39 338.86,49.65 339.55,49.92 340.23,50.18 340.92,50.45 341.60,50.72 342.29,50.98 342.97,51.25 343.66,51.52 344.34,51.78 345.03,52.05 345.71,52.32 346.40,52.59 347.08,52.86 347.77,53.13 348.45,53.40 349.14,53.67 349.82,53.94 350.51,54.21 351.19,54.48 351.88,54.76 352.56,55.03 353.25,55.30 353.93,55.57 354.62,55.85 355.30,56.12 355.99,56.40 356.67,56.67 357.36,56.95 358.04,57.23 358.73,57.50 359.41,57.78 360.10,58.06 360.78,58.33 361.47,58.61 362.15,58.89 362.84,59.17 363.52,59.45 364.21,59.73 364.89,60.01 365.58,60.29 366.26,60.57 366.95,60.86 367.63,61.14 368.32,61.42 369.00,61.70 369.69,61.99 370.37,62.27 371.06,62.56 371.74,62.84 372.43,63.13 373.11,63.42 373.80,63.70 374.48,63.99 375.17,64.28 375.85,64.57 376.54,64.86 377.22,65.15 377.91,65.44 378.59,65.73 379.28,66.03 379.96,66.32 380.65,66.61 381.33,66.91 382.02,67.20 382.70,67.50 383.39,67.79 384.07,68.09 384.76,68.39 385.44,68.69 386.13,68.99 386.81,69.29 387.49,69.59 388.18,69.89 388.86,70.20 389.55,70.50 390.23,70.81 390.92,71.11 391.60,71.42 392.29,71.73 392.97,72.04 393.66,72.35 394.34,72.66 395.03,72.97 395.71,73.29 396.40,73.60 397.08,73.92 397.77,74.23 398.45,74.55 399.14,74.87 399.82,75.19 400.51,75.51 401.19,75.84 401.88,76.16 402.56,76.49 403.25,76.82 403.93,77.14 404.62,77.47 405.30,77.81 405.99,78.14 406.67,78.47 407.36,78.81 408.04,79.15 408.73,79.49 409.41,79.83 410.10,80.17 410.78,80.51 411.47,80.86 412.15,81.21 412.84,81.56 413.52,81.91 414.21,82.26 414.89,82.61 415.58,82.97 416.26,83.33 416.95,83.69 417.63,84.05 418.32,84.41 419.00,84.78 419.69,85.14 420.37,85.51 421.06,85.88 421.74,86.26 422.43,86.63 423.11,87.01 423.80,87.39 424.48,87.77 425.17,88.15 425.85,88.54 426.54,88.92 427.22,89.31 427.91,89.70 428.59,90.10 429.28,90.49 429.96,90.89 430.65,91.29 431.33,91.69 432.02,92.09 432.70,92.50 433.39,92.91 434.07,93.32 434.76,93.73 435.44,94.14 436.13,94.56 436.81,94.98 437.50,95.40 438.18,95.82 438.87,96.25 439.55,96.67 440.24,97.10 440.92,97.53 441.61,97.97 442.29,98.40 442.98,98.84 443.66,99.28 444.35,99.72 445.03,100.16 445.72,100.61 446.40,101.05 447.09,101.50 447.77,101.95 448.46,102.41 449.14,102.86 449.83,103.32 450.51,103.78 451.20,104.24 451.88,104.70 452.57,105.16 453.25,105.63 453.94,106.09 454.62,106.56 455.31,107.03 455.99,107.51 456.67,107.98 457.36,108.46 458.04,108.93 458.73,109.41 459.41,109.89 460.10,110.37 460.78,110.86 461.47,111.34 462.15,111.83 462.84,112.32 463.52,112.80 464.21,113.29 464.89,113.79 465.58,114.28 466.26,114.77 466.95,115.27 467.63,115.77 468.32,116.26 469.00,116.76 469.69,117.26 470.37,117.77 471.06,118.27 471.74,118.77 472.43,119.28 473.11,119.78 473.80,120.29 474.48,120.80 475.17,121.31 475.85,121.82 476.54,122.33 477.22,122.84 477.91,123.35 478.59,123.87 479.28,124.38 479.96,124.90 480.65,125.41 481.33,125.93 482.02,126.45 482.70,126.97 483.39,127.49 484.07,128.01 484.76,128.53 485.44,129.05 486.13,129.57 486.81,130.09 487.50,130.62 488.18,131.14 488.87,131.67 489.55,132.19 490.24,132.72 490.92,133.24 491.61,133.77 492.29,134.30 492.98,134.83 493.66,135.35 494.35,135.88 495.03,136.41 495.72,136.94 496.40,137.47 497.09,138.00 497.77,138.53 498.46,139.07 499.14,139.60 499.83,140.13 500.51,140.66 501.20,141.20 501.88,141.73 502.57,142.26 503.25,142.80 503.94,143.33 504.62,143.87 505.31,144.40 505.99,144.94 506.68,145.48 507.36,146.01 508.05,146.55 508.73,147.08 509.42,147.62 510.10,148.16 510.79,148.70 511.47,149.23 512.16,149.77 512.84,150.31 513.53,150.85 514.21,151.39 514.90,151.93 515.58,152.47 516.27,153.00 516.95,153.54 517.64,154.08 518.32,154.62 519.01,155.16 519.69,155.70 520.38,156.24 521.06,156.78 521.75,157.33 522.43,157.87 523.12,158.41 523.80,158.95" fill="none" stroke="#3cec2c" stroke-width="1.4" stroke-linejoin="round"/>
<polyline points="319.00,43.83 319.68,44.10 320.37,44.36 321.05,44.63 321.74,44.90 322.42,45.17 323.11,45.44 323.79,45.70 324.48,45.97 325.16,46.24 325.85,46.51 326.53,46.78 327.22,47.05 327.90,47.32 328.59,47.59 329.27,47.86 329.96,48.13 330.64,48.40 331.33,48.67 332.01,48.95 332.70,49.22 333.38,49.49 334.07,49.76 334.75,50.03 335.44,50.31 336.12,50.58 336.81,50.85 337.49,51.12 338.18,51.40 338.86,51.67 339.55,51.94 340.23,52.22 340.92,52.49 341.60,52.76 342.29,53.04 342.97,53.31 343.66,53.59 344.34,53.86 345.03,54.14 345.71,54.41 346.40,54.69 347.08,54.96 347.77,55.24 348.45,55.52 349.14,55.79 349.82,56.07 350.51,56.35 351.19,56.62 351.88,56.90 352.56,57.18 353.25,57.46 353.93,57.73 354.62,58.01 355.30,58.29 355.99,58.57 356.67,58.85 357.36,59.13 358.04,59.41 358.73,59.69 359.41,59.97 360.10,60.25 360.78,60.53 361.47,60.81 362.15,61.09 362.84,61.37 363.52,61.65 364.21,61.94 364.89,62.22 365.58,62.50 366.26,62.79 366.95,63.07 367.63,63.35 368.32,63.64 369.00,63.92 369.69,64.21 370.37,64.49 371.06,64.78 371.74,65.07 372.43,65.35 373.11,65.64 373.80,65.93 374.48,66.22 375.17,66.51 375.85,66.80 376.54,67.09 377.22,67.38 377.91,67.67 378.59,67.96 379.28,68.25 379.96,68.55 380.65,68.84 381.33,69.13 382.02,69.43 382.70,69.72 383.39,70.02 384.07,70.32 384.76,70.61 385.44,70.91 386.13,71.21 386.81,71.51 387.49,71.81 388.18,72.11 388.86,72.41 389.55,72.72 390.23,73.02 390.92,73.32 391.60,73.63 392.29,73.94 392.97,74.24 393.66,74.55 394.34,74.86 395.03,75.17 395.71,75.48 396.40,75.79 397.08,76.11 397.77,76.42 398.45,76.74 399.14,77.05 399.82,77.37 400.51,77.69 401.19,78.01 401.88,78.33 402.56,78.65 403.25,78.98 403.93,79.30 404.62,79.63 405.30,79.96 405.99,80.29 406.67,80.62 407.36,80.95 408.04,81.28 408.73,81.62 409.41,81.95 410.10,82.29 410.78,82.63 411.47,82.97 412.15,83.31 412.84,83.66 413.52,84.00 414.21,84.35 414.89,84.70 415.58,85.05 416.26,85.40 416.95,85.76 417.63,86.11 418.32,86.47 419.00,86.83 419.69,87.19 420.37,87.56 421.06,87.92 421.74,88.29 422.43,88.66 423.11,89.03 423.80,89.40 424.48,89.78 425.17,90.15 425.85,90.53 426.54,90.91 427.22,91.30 427.91,91.68 428.59,92.07 429.28,92.46 429.96,92.85 430.65,93.24 431.33,93.64 432.02,94.03 432.70,94.43 433.39,94.84 434.07,95.24 434.76,95.65 435.44,96.05 436.13,96.46 436.81,96.88 437.50,97.29 438.18,97.71 438.87,98.12 439.55,98.54 440.24,98.97 440.92,99.39 441.61,99.82 442.29,100.25 442.98,100.68 443.66,101.11 444.35,101.55 445.03,101.98 445.72,102.42 446.40,102.86 447.09,103.31 447.77,103.75 448.46,104.20 449.14,104.65 449.83,105.10 450.51,105.55 451.20,106.00 451.88,106.46 452.57,106.92 453.25,107.38 453.94,107.84 454.62,108.30 455.31,108.77 455.99,109.24 456.67,109.70 457.36,110.18 458.04,110.65 458.73,111.12 459.41,111.60 460.10,112.07 460.78,112.55 461.47,113.03 462.15,113.51 462.84,114.00 463.52,114.48 464.21,114.97 464.89,115.46 465.58,115.94 466.26,116.43 466.95,116.93 467.63,117.42 468.32,117.91 469.00,118.41 469.69,118.91 470.37,119.40 471.06,119.90 471.74,120.40 472.43,120.90 473.11,121.41 473.80,121.91 474.48,122.42 475.17,122.92 475.85,123.43 476.54,123.94 477.22,124.45 477.91,124.96 478.59,125.47 479.28,125.98 479.96,126.49 480.65,127.00 481.33,127.52 482.02,128.03 482.70,128.55 483.39,129.07 484.07,129.59 484.76,130.10 485.44,130.62 486.13,131.14 486.81,131.66 487.50,132.19 488.18,132.71 488.87,133.23 489.55,133.75 490.24,134.28 490.92,134.80 491.61,135.33 492.29,135.85 492.98,136.38 493.66,136.91 494.35,137.43 495.03,137.96 495.72,138.49 496.40,139.02 497.09,139.55 497.77,140.08 498.46,140.61 499.14,141.14 499.83,141.67 500.51,142.20 501.20,142.73 501.88,143.27 502.57,143.80 503.25,144.33 503.94,144.87 504.62,145.40 505.31,145.93 505.99,146.47 506.68,147.00 507.36,147.54 508.05,148.08 508.73,148.61 509.42,149.15 510.10,149.68 510.79,150.22 511.47,150.76 512.16,151.29 512.84,151.83 513.53,152.37 514.21,152.91 514.90,153.45 515.58,153.98 516.27,154.52 516.95,155.06 517.64,155.60 518.32,156.14 519.01,156.68 519.69,157.22 520.38,157.76 521.06,158.30 521.75,158.84 522.43,159.38 523.12,159.92 523.80,160.46" fill="none" stroke="#aa40f2" stroke-width="1.3" stroke-dasharray="6 0.5 1.6 0.5" stroke-linejoin="round"/>
<polyline points="319.00,27.65 319.68,27.92 320.37,28.18 321.05,28.45 321.74,28.71 322.42,28.98 323.11,29.25 323.79,29.51 324.48,29.78 325.16,30.05 325.85,30.31 326.53,30.58 327.22,30.85 327.90,31.12 328.59,31.39 329.27,31.66 329.96,31.92 330.64,32.19 331.33,32.46 332.01,32.73 332.70,33.00 333.38,33.27 334.07,33.54 334.75,33.82 335.44,34.09 336.12,34.36 336.81,34.63 337.49,34.90 338.18,35.17 338.86,35.44 339.55,35.72 340.23,35.99 340.92,36.26 341.60,36.54 342.29,36.81 342.97,37.08 343.66,37.36 344.34,37.63 345.03,37.90 345.71,38.18 346.40,38.45 347.08,38.73 347.77,39.00 348.45,39.28 349.14,39.55 349.82,39.83 350.51,40.11 351.19,40.38 351.88,40.66 352.56,40.94 353.25,41.21 353.93,41.49 354.62,41.77 355.30,42.05 355.99,42.33 356.67,42.60 357.36,42.88 358.04,43.16 358.73,43.44 359.41,43.72 360.10,44.00 360.78,44.28 361.47,44.56 362.15,44.85 362.84,45.13 363.52,45.41 364.21,45.69 364.89,45.97 365.58,46.26 366.26,46.54 366.95,46.82 367.63,47.11 368.32,47.39 369.00,47.68 369.69,47.96 370.37,48.25 371.06,48.54 371.74,48.82 372.43,49.11 373.11,49.40 373.80,49.69 374.48,49.98 375.17,50.27 375.85,50.56 376.54,50.85 377.22,51.14 377.91,51.43 378.59,51.72 379.28,52.02 379.96,52.31 380.65,52.60 381.33,52.90 382.02,53.19 382.70,53.49 383.39,53.79 384.07,54.09 384.76,54.38 385.44,54.68 386.13,54.98 386.81,55.28 387.49,55.59 388.18,55.89 388.86,56.19 389.55,56.50 390.23,56.80 390.92,57.11 391.60,57.42 392.29,57.72 392.97,58.03 393.66,58.34 394.34,58.65 395.03,58.97 395.71,59.28 396.40,59.59 397.08,59.91 397.77,60.23 398.45,60.54 399.14,60.86 399.82,61.18 400.51,61.50 401.19,61.83 401.88,62.15 402.56,62.48 403.25,62.80 403.93,63.13 404.62,63.46 405.30,63.79 405.99,64.12 406.67,64.46 407.36,64.79 408.04,65.13 408.73,65.47 409.41,65.81 410.10,66.15 410.78,66.49 411.47,66.83 412.15,67.18 412.84,67.53 413.52,67.88 414.21,68.23 414.89,68.58 415.58,68.94 416.26,69.29 416.95,69.65 417.63,70.01 418.32,70.38 419.00,70.74 419.69,71.11 420.37,71.47 421.06,71.84 421.74,72.21 422.43,72.59 423.11,72.96 423.80,73.34 424.48,73.72 425.17,74.10 425.85,74.49 426.54,74.87 427.22,75.26 427.91,75.65 428.59,76.04 429.28,76.43 429.96,76.83 430.65,77.23 431.33,77.63 432.02,78.03 432.70,78.44 433.39,78.84 434.07,79.25 434.76,79.66 435.44,80.07 436.13,80.49 436.81,80.91 437.50,81.33 438.18,81.75 438.87,82.17 439.55,82.60 440.24,83.02 440.92,83.45 441.61,83.88 442.29,84.32 442.98,84.75 443.66,85.19 444.35,85.63 445.03,86.07 445.72,86.52 446.40,86.96 447.09,87.41 447.77,87.86 448.46,88.31 449.14,88.77 449.83,89.22 450.51,89.68 451.20,90.14 451.88,90.60 452.57,91.06 453.25,91.53 453.94,91.99 454.62,92.46 455.31,92.93 455.99,93.40 456.67,93.87 457.36,94.35 458.04,94.82 458.73,95.30 459.41,95.78 460.10,96.26 460.78,96.75 461.47,97.23 462.15,97.71 462.84,98.20 463.52,98.69 464.21,99.18 464.89,99.67 465.58,100.16 466.26,100.66 466.95,101.15 467.63,101.65 468.32,102.15 469.00,102.65 469.69,103.15 470.37,103.65 471.06,104.15 471.74,104.65 472.43,105.16 473.11,105.66 473.80,106.17 474.48,106.68 475.17,107.19 475.85,107.70 476.54,108.21 477.22,108.72 477.91,109.23 478.59,109.75 479.28,110.26 479.96,110.78 480.65,111.29 481.33,111.81 482.02,112.33 482.70,112.85 483.39,113.36 484.07,113.89 484.76,114.41 485.44,114.93 486.13,115.45 486.81,115.97 487.50,116.50 488.18,117.02 488.87,117.55 489.55,118.07 490.24,118.60 490.92,119.12 491.61,119.65 492.29,120.18 492.98,120.71 493.66,121.24 494.35,121.77 495.03,122.30 495.72,122.83 496.40,123.36 497.09,123.89 497.77,124.42 498.46,124.95 499.14,125.48 499.83,126.02 500.51,126.55 501.20,127.08 501.88,127.62 502.57,128.15 503.25,128.69 503.94,129.22 504.62,129.76 505.31,130.30 505.99,130.83 506.68,131.37 507.36,131.91 508.05,132.44 508.73,132.98 509.42,133.52 510.10,134.06 510.79,134.59 511.47,135.13 512.16,135.67 512.84,136.21 513.53,136.75 514.21,137.29 514.90,137.83 515.58,138.37 516.27,138.91 516.95,139.45 517.64,139.99 518.32,140.53 519.01,141.07 519.69,141.61 520.38,142.15 521.06,142.70 521.75,143.24 522.43,143.78 523.12,144.32 523.80,144.86" fill="none" stroke="#1f3aff" stroke-width="1.5" stroke-linejoin="round"/>
<polyline points="319.00,68.70 319.68,68.68 320.37,68.66 321.05,68.64 321.74,68.63 322.42,68.61 323.11,68.59 323.79,68.57 324.48,68.56 325.16,68.54 325.85,68.52 326.53,68.50 327.22,68.49 327.90,68.47 328.59,68.45 329.27,68.43 329.96,68.41 330.64,68.40 331.33,68.38 332.01,68.36 332.70,68.34 333.38,68.32 334.07,68.30 334.75,68.29 335.44,68.27 336.12,68.25 336.81,68.23 337.49,68.21 338.18,68.19 338.86,68.17 339.55,68.16 340.23,68.14 340.92,68.12 341.60,68.10 342.29,68.08 342.97,68.07 343.66,68.05 344.34,68.03 345.03,68.01 345.71,67.99 346.40,67.98 347.08,67.96 347.77,67.94 348.45,67.93 349.14,67.91 349.82,67.90 350.51,67.88 351.19,67.86 351.88,67.85 352.56,67.84 353.25,67.82 353.93,67.81 354.62,67.80 355.30,67.79 355.99,67.77 356.67,67.76 357.36,67.75 358.04,67.75 358.73,67.74 359.41,67.73 360.10,67.73 360.78,67.72 361.47,67.72 362.15,67.72 362.84,67.71 363.52,67.71 364.21,67.72 364.89,67.72 365.58,67.73 366.26,67.73 366.95,67.74 367.63,67.75 368.32,67.76 369.00,67.78 369.69,67.80 370.37,67.82 371.06,67.84 371.74,67.86 372.43,67.89 373.11,67.92 373.80,67.95 374.48,67.99 375.17,68.03 375.85,68.07 376.54,68.12 377.22,68.17 377.91,68.22 378.59,68.27 379.28,68.34 379.96,68.40 380.65,68.47 381.33,68.54 382.02,68.62 382.70,68.70 383.39,68.79 384.07,68.88 384.76,68.97 385.44,69.07 386.13,69.18 386.81,69.29 387.49,69.41 388.18,69.53 388.86,69.66 389.55,69.79 390.23,69.93 390.92,70.07 391.60,70.22 392.29,70.37 392.97,70.53 393.66,70.70 394.34,70.87 395.03,71.04 395.71,71.23 396.40,71.41 397.08,71.61 397.77,71.81 398.45,72.01 399.14,72.22 399.82,72.44 400.51,72.66 401.19,72.89 401.88,73.12 402.56,73.35 403.25,73.60 403.93,73.84 404.62,74.09 405.30,74.35 405.99,74.61 406.67,74.88 407.36,75.15 408.04,75.42 408.73,75.70 409.41,75.99 410.10,76.27 410.78,76.56 411.47,76.86 412.15,77.16 412.84,77.46 413.52,77.76 414.21,78.07 414.89,78.39 415.58,78.70 416.26,79.02 416.95,79.34 417.63,79.66 418.32,79.99 419.00,80.32 419.69,80.65 420.37,80.99 421.06,81.32 421.74,81.66 422.43,82.00 423.11,82.35 423.80,82.69 424.48,83.04 425.17,83.39 425.85,83.74 426.54,84.09 427.22,84.45 427.91,84.80 428.59,85.16 429.28,85.52 429.96,85.88 430.65,86.24 431.33,86.61 432.02,86.97 432.70,87.34 433.39,87.70 434.07,88.07 434.76,88.44 435.44,88.81 436.13,89.19 436.81,89.56 437.50,89.94 438.18,90.31 438.87,90.69 439.55,91.07 440.24,91.45 440.92,91.83 441.61,92.21 442.29,92.59 442.98,92.97 443.66,93.36 444.35,93.74 445.03,94.13 445.72,94.52 446.40,94.91 447.09,95.30 447.77,95.69 448.46,96.08 449.14,96.48 449.83,96.87 450.51,97.27 451.20,97.67 451.88,98.07 452.57,98.47 453.25,98.87 453.94,99.27 454.62,99.68 455.31,100.08 455.99,100.49 456.67,100.90 457.36,101.31 458.04,101.72 458.73,102.14 459.41,102.55 460.10,102.97 460.78,103.39 461.47,103.81 462.15,104.24 462.84,104.66 463.52,105.09 464.21,105.52 464.89,105.95 465.58,106.38 466.26,106.82 466.95,107.26 467.63,107.70 468.32,108.14 469.00,108.59 469.69,109.04 470.37,109.49 471.06,109.94 471.74,110.40 472.43,110.86 473.11,111.32 473.80,111.79 474.48,112.26 475.17,112.73 475.85,113.21 476.54,113.69 477.22,114.17 477.91,114.66 478.59,115.15 479.28,115.65 479.96,116.15 480.65,116.65 481.33,117.16 482.02,117.67 482.70,118.19 483.39,118.71 484.07,119.24 484.76,119.77 485.44,120.31 486.13,120.85 486.81,121.39 487.50,121.94 488.18,122.50 488.87,123.06 489.55,123.63 490.24,124.20 490.92,124.78 491.61,125.36 492.29,125.95 492.98,126.54 493.66,127.14 494.35,127.74 495.03,128.35 495.72,128.95 496.40,129.57 497.09,130.18 497.77,130.80 498.46,131.42 499.14,132.04 499.83,132.65 500.51,133.27 501.20,133.88 501.88,134.49 502.57,135.08 503.25,135.67 503.94,136.25 504.62,136.81 505.31,137.35 505.99,137.87 506.68,138.37 507.36,138.83 508.05,139.27 508.73,139.67 509.42,140.04 510.10,140.36 510.79,140.65 511.47,140.89 512.16,141.08 512.84,141.23 513.53,141.33 514.21,141.39 514.90,141.41 515.58,141.39 516.27,141.32 516.95,141.23 517.64,141.10 518.32,140.94 519.01,140.76 519.69,140.56 520.38,140.34 521.06,140.11 521.75,139.86 522.43,139.60 523.12,139.33 523.80,139.06" fill="none" stroke="#ff3d4c" stroke-width="1.2" stroke-dasharray="3.2 0.4" stroke-linejoin="round"/>
<path d="M318.5,25.5 V188.5 H524.3" fill="none" stroke="#000" stroke-width="1"/>
<path d="M318.5,188.70h2.6 M318.5,182.56h1.5 M318.5,178.97h1.5 M318.5,176.42h1.5 M318.5,174.44h1.5 M318.5,172.83h1.5 M318.5,171.46h1.5 M318.5,170.28h1.5 M318.5,169.23h1.5 M318.5,168.30h2.6 M318.5,162.16h1.5 M318.5,158.57h1.5 M318.5,156.02h1.5 M318.5,154.04h1.5 M318.5,152.43h1.5 M318.5,151.06h1.5 M318.5,149.88h1.5 M318.5,148.83h1.5 M318.5,147.90h2.6 M318.5,141.76h1.5 M318.5,138.17h1.5 M318.5,135.62h1.5 M318.5,133.64h1.5 M318.5,132.03h1.5 M318.5,130.66h1.5 M318.5,129.48h1.5 M318.5,128.43h1.5 M318.5,127.50h2.6 M318.5,121.36h1.5 M318.5,117.77h1.5 M318.5,115.22h1.5 M318.5,113.24h1.5 M318.5,111.63h1.5 M318.5,110.26h1.5 M318.5,109.08h1.5 M318.5,108.03h1.5 M318.5,107.10h2.6 M318.5,100.96h1.5 M318.5,97.37h1.5 M318.5,94.82h1.5 M318.5,92.84h1.5 M318.5,91.23h1.5 M318.5,89.86h1.5 M318.5,88.68h1.5 M318.5,87.63h1.5 M318.5,86.70h2.6 M318.5,80.56h1.5 M318.5,76.97h1.5 M318.5,74.42h1.5 M318.5,72.44h1.5 M318.5,70.83h1.5 M318.5,69.46h1.5 M318.5,68.28h1.5 M318.5,67.23h1.5 M318.5,66.30h2.6 M318.5,60.16h1.5 M318.5,56.57h1.5 M318.5,54.02h1.5 M318.5,52.04h1.5 M318.5,50.43h1.5 M318.5,49.06h1.5 M318.5,47.88h1.5 M318.5,46.83h1.5 M318.5,45.90h2.6 M318.5,39.76h1.5 M318.5,36.17h1.5 M318.5,33.62h1.5 M318.5,31.64h1.5 M318.5,30.03h1.5 M318.5,28.66h1.5 M318.5,27.48h1.5 M318.5,26.43h1.5 M318.5,25.50h2.6 M319.00,188.5v-2.6 M390.57,188.5v-1.5 M372.54,188.5v-1.5 M359.75,188.5v-1.5 M349.83,188.5v-1.5 M341.72,188.5v-1.5 M334.86,188.5v-1.5 M328.92,188.5v-1.5 M323.69,188.5v-1.5 M421.40,188.5v-2.6 M492.97,188.5v-1.5 M474.94,188.5v-1.5 M462.15,188.5v-1.5 M452.23,188.5v-1.5 M444.12,188.5v-1.5 M437.26,188.5v-1.5 M431.32,188.5v-1.5 M426.09,188.5v-1.5 M523.80,188.5v-2.6" fill="none" stroke="#000" stroke-width="0.8"/>
<text x="315.60" y="191.90" text-anchor="end" class="tk">10<tspan dx="0.5" dy="-5.0" class="sup">-4</tspan></text>
<text x="315.60" y="171.50" text-anchor="end" class="tk">10<tspan dx="0.5" dy="-5.0" class="sup">-3</tspan></text>
<text x="315.60" y="151.10" text-anchor="end" class="tk">10<tspan dx="0.5" dy="-5.0" class="sup">-2</tspan></text>
<text x="315.60" y="130.70" text-anchor="end" class="tk">10<tspan dx="0.5" dy="-5.0" class="sup">-1</tspan></text>
<text x="315.60" y="110.30" text-anchor="end" class="tk">10<tspan dx="0.5" dy="-5.0" class="sup">0</tspan></text>
<text x="315.60" y="89.90" text-anchor="end" class="tk">10<tspan dx="0.5" dy="-5.0" class="sup">1</tspan></text>
<text x="315.60" y="69.50" text-anchor="end" class="tk">10<tspan dx="0.5" dy="-5.0" class="sup">2</tspan></text>
<text x="315.60" y="49.10" text-anchor="end" class="tk">10<tspan dx="0.5" dy="-5.0" class="sup">3</tspan></text>
<text x="315.60" y="28.70" text-anchor="end" class="tk">10<tspan dx="0.5" dy="-5.0" class="sup">4</tspan></text>
<text x="311.20" y="204.80" class="tk">10<tspan dx="0.2" dy="-7.0" class="sup">2</tspan></text>
<text x="413.70" y="204.80" class="tk">10<tspan dx="0.2" dy="-7.0" class="sup">1</tspan></text>
<text x="515.60" y="204.80" class="tk">10<tspan dx="0.2" dy="-7.0" class="sup">0</tspan></text>
<line x1="439.6" y1="20.40" x2="471.4" y2="20.40" stroke="#1f3aff" stroke-width="1.3"/>
<text x="474.8" y="23.20" class="lg" xml:space="preserve">USA level 5</text>
<line x1="439.6" y1="29.90" x2="471.4" y2="29.90" stroke="#aa38f2" stroke-width="1.3" stroke-dasharray="5.4 1.7 1.4 1.7"/>
<text x="474.8" y="32.70" class="lg" xml:space="preserve">USA level 6</text>
<line x1="439.6" y1="40.40" x2="471.4" y2="40.40" stroke="#3cec2c" stroke-width="1.5"/>
<text x="474.8" y="43.20" class="lg" xml:space="preserve">Germany high level</text>
<line x1="439.6" y1="50.80" x2="471.4" y2="50.80" stroke="#2a4aff" stroke-width="1.3" stroke-dasharray="12.2 4.9"/>
<text x="474.8" y="53.60" class="lg" xml:space="preserve">Germany low level</text>
<line x1="439.6" y1="60.20" x2="471.4" y2="60.20" stroke="#ff3d4c" stroke-width="1.2" stroke-dasharray="2 1.45"/>
<text x="474.8" y="63.00" class="lg" xml:space="preserve">China railway</text>
<line x1="439.6" y1="70.60" x2="471.4" y2="70.60" stroke="#151515" stroke-width="1.3"/>
<text x="474.8" y="73.40" class="lg" xml:space="preserve" style="word-spacing:0px">He - Wu PDL</text>
<text x="282.4" y="14.4" class="pl">(b)</text>
<text x="389.8" y="221.9" textLength="72.8" lengthAdjust="spacingAndGlyphs" class="xt">Wavelength /m</text>
<text transform="translate(290.9,105.65) rotate(-90)" x="-72.6" textLength="145.2" lengthAdjust="spacingAndGlyphs" class="yt">Track Irregularity PSD /(mm2 m)</text>
<polyline points="164.50,337.94 165.18,337.95 165.86,337.95 166.53,337.96 167.21,337.96 167.89,337.97 168.57,337.98 169.24,337.98 169.92,337.99 170.60,337.99 171.28,338.00 171.95,338.01 172.63,338.02 173.31,338.02 173.99,338.03 174.66,338.04 175.34,338.04 176.02,338.05 176.70,338.06 177.37,338.07 178.05,338.08 178.73,338.09 179.41,338.09 180.08,338.10 180.76,338.11 181.44,338.12 182.12,338.13 182.79,338.14 183.47,338.15 184.15,338.16 184.83,338.17 185.51,338.18 186.18,338.19 186.86,338.21 187.54,338.22 188.22,338.23 188.89,338.24 189.57,338.25 190.25,338.27 190.93,338.28 191.60,338.30 192.28,338.31 192.96,338.32 193.64,338.34 194.31,338.35 194.99,338.37 195.67,338.39 196.35,338.40 197.02,338.42 197.70,338.44 198.38,338.46 199.06,338.47 199.73,338.49 200.41,338.51 201.09,338.53 201.77,338.55 202.45,338.58 203.12,338.60 203.80,338.62 204.48,338.64 205.16,338.67 205.83,338.69 206.51,338.72 207.19,338.74 207.87,338.77 208.54,338.80 209.22,338.83 209.90,338.86 210.58,338.89 211.25,338.92 211.93,338.95 212.61,338.98 213.29,339.02 213.96,339.05 214.64,339.09 215.32,339.12 216.00,339.16 216.67,339.20 217.35,339.24 218.03,339.28 218.71,339.32 219.38,339.37 220.06,339.41 220.74,339.46 221.42,339.50 222.10,339.55 222.77,339.60 223.45,339.65 224.13,339.71 224.81,339.76 225.48,339.82 226.16,339.87 226.84,339.93 227.52,339.99 228.19,340.05 228.87,340.12 229.55,340.18 230.23,340.25 230.90,340.32 231.58,340.39 232.26,340.46 232.94,340.54 233.61,340.62 234.29,340.70 234.97,340.78 235.65,340.86 236.32,340.95 237.00,341.03 237.68,341.12 238.36,341.22 239.04,341.31 239.71,341.41 240.39,341.51 241.07,341.61 241.75,341.72 242.42,341.83 243.10,341.94 243.78,342.05 244.46,342.17 245.13,342.29 245.81,342.41 246.49,342.53 247.17,342.66 247.84,342.79 248.52,342.93 249.20,343.06 249.88,343.21 250.55,343.35 251.23,343.50 251.91,343.65 252.59,343.80 253.26,343.96 253.94,344.12 254.62,344.29 255.30,344.46 255.97,344.63 256.65,344.81 257.33,344.99 258.01,345.17 258.69,345.36 259.36,345.56 260.04,345.75 260.72,345.95 261.40,346.16 262.07,346.37 262.75,346.58 263.43,346.80 264.11,347.02 264.78,347.25 265.46,347.48 266.14,347.72 266.82,347.96 267.49,348.20 268.17,348.45 268.85,348.71 269.53,348.97 270.20,349.23 270.88,349.50 271.56,349.77 272.24,350.05 272.91,350.33 273.59,350.62 274.27,350.91 274.95,351.21 275.63,351.51 276.30,351.82 276.98,352.13 277.66,352.45 278.34,352.77 279.01,353.10 279.69,353.43 280.37,353.77 281.05,354.11 281.72,354.46 282.40,354.81 283.08,355.17 283.76,355.53 284.43,355.90 285.11,356.27 285.79,356.65 286.47,357.03 287.14,357.42 287.82,357.81 288.50,358.21 289.18,358.61 289.85,359.02 290.53,359.43 291.21,359.85 291.89,360.27 292.56,360.70 293.24,361.13 293.92,361.57 294.60,362.01 295.28,362.46 295.95,362.91 296.63,363.37 297.31,363.83 297.99,364.29 298.66,364.76 299.34,365.24 300.02,365.72 300.70,366.20 301.37,366.69 302.05,367.18 302.73,367.68 303.41,368.18 304.08,368.68 304.76,369.19 305.44,369.70 306.12,370.22 306.79,370.74 307.47,371.27 308.15,371.80 308.83,372.33 309.50,372.87 310.18,373.41 310.86,373.96 311.54,374.50 312.22,375.06 312.89,375.61 313.57,376.17 314.25,376.73 314.93,377.30 315.60,377.87 316.28,378.44 316.96,379.02 317.64,379.60 318.31,380.18 318.99,380.76 319.67,381.35 320.35,381.94 321.02,382.54 321.70,383.14 322.38,383.74 323.06,384.34 323.73,384.94 324.41,385.55 325.09,386.16 325.77,386.78 326.44,387.39 327.12,388.01 327.80,388.63 328.48,389.25 329.15,389.88 329.83,390.51 330.51,391.14 331.19,391.77 331.87,392.40 332.54,393.04 333.22,393.67 333.90,394.31 334.58,394.96 335.25,395.60 335.93,396.24 336.61,396.89 337.29,397.54 337.96,398.19 338.64,398.84 339.32,399.50 340.00,400.15 340.67,400.81 341.35,401.47 342.03,402.13 342.71,402.79 343.38,403.45 344.06,404.11 344.74,404.78 345.42,405.45 346.09,406.11 346.77,406.78 347.45,407.45 348.13,408.12 348.81,408.80 349.48,409.47 350.16,410.14 350.84,410.82 351.52,411.50 352.19,412.17 352.87,412.85 353.55,413.53 354.23,414.21 354.90,414.89 355.58,415.57 356.26,416.26 356.94,416.94 357.61,417.62 358.29,418.31 358.97,418.99 359.65,419.68 360.32,420.37 361.00,421.06 361.68,421.74 362.36,422.43 363.03,423.12 363.71,423.81 364.39,424.50 365.07,425.20 365.74,425.89" fill="none" stroke="#151515" stroke-width="1.5" stroke-linejoin="round"/>
<polyline points="164.50,310.85 165.18,310.86 165.86,310.87 166.53,310.88 167.21,310.89 167.89,310.90 168.57,310.91 169.24,310.92 169.92,310.93 170.60,310.94 171.28,310.96 171.95,310.97 172.63,310.98 173.31,310.99 173.99,311.01 174.66,311.02 175.34,311.03 176.02,311.05 176.70,311.06 177.37,311.08 178.05,311.09 178.73,311.11 179.41,311.12 180.08,311.14 180.76,311.16 181.44,311.18 182.12,311.19 182.79,311.21 183.47,311.23 184.15,311.25 184.83,311.27 185.51,311.29 186.18,311.31 186.86,311.33 187.54,311.36 188.22,311.38 188.89,311.40 189.57,311.43 190.25,311.45 190.93,311.48 191.60,311.50 192.28,311.53 192.96,311.56 193.64,311.58 194.31,311.61 194.99,311.64 195.67,311.68 196.35,311.71 197.02,311.74 197.70,311.77 198.38,311.81 199.06,311.84 199.73,311.88 200.41,311.92 201.09,311.96 201.77,312.00 202.45,312.04 203.12,312.08 203.80,312.12 204.48,312.17 205.16,312.21 205.83,312.26 206.51,312.31 207.19,312.36 207.87,312.41 208.54,312.46 209.22,312.51 209.90,312.57 210.58,312.63 211.25,312.69 211.93,312.75 212.61,312.81 213.29,312.87 213.96,312.94 214.64,313.01 215.32,313.07 216.00,313.15 216.67,313.22 217.35,313.29 218.03,313.37 218.71,313.45 219.38,313.53 220.06,313.62 220.74,313.70 221.42,313.79 222.10,313.88 222.77,313.97 223.45,314.07 224.13,314.17 224.81,314.27 225.48,314.37 226.16,314.48 226.84,314.59 227.52,314.70 228.19,314.81 228.87,314.93 229.55,315.05 230.23,315.18 230.90,315.30 231.58,315.43 232.26,315.57 232.94,315.70 233.61,315.85 234.29,315.99 234.97,316.14 235.65,316.29 236.32,316.44 237.00,316.60 237.68,316.76 238.36,316.93 239.04,317.10 239.71,317.27 240.39,317.45 241.07,317.63 241.75,317.82 242.42,318.01 243.10,318.21 243.78,318.41 244.46,318.61 245.13,318.82 245.81,319.03 246.49,319.25 247.17,319.47 247.84,319.70 248.52,319.93 249.20,320.17 249.88,320.41 250.55,320.65 251.23,320.91 251.91,321.16 252.59,321.42 253.26,321.69 253.94,321.96 254.62,322.24 255.30,322.52 255.97,322.81 256.65,323.10 257.33,323.40 258.01,323.70 258.69,324.01 259.36,324.33 260.04,324.65 260.72,324.97 261.40,325.30 262.07,325.64 262.75,325.98 263.43,326.33 264.11,326.68 264.78,327.04 265.46,327.40 266.14,327.77 266.82,328.14 267.49,328.52 268.17,328.91 268.85,329.30 269.53,329.70 270.20,330.10 270.88,330.51 271.56,330.92 272.24,331.34 272.91,331.76 273.59,332.19 274.27,332.62 274.95,333.06 275.63,333.50 276.30,333.95 276.98,334.41 277.66,334.87 278.34,335.33 279.01,335.80 279.69,336.27 280.37,336.75 281.05,337.24 281.72,337.73 282.40,338.22 283.08,338.72 283.76,339.22 284.43,339.73 285.11,340.24 285.79,340.75 286.47,341.27 287.14,341.80 287.82,342.33 288.50,342.86 289.18,343.40 289.85,343.94 290.53,344.49 291.21,345.03 291.89,345.59 292.56,346.14 293.24,346.71 293.92,347.27 294.60,347.84 295.28,348.41 295.95,348.98 296.63,349.56 297.31,350.14 297.99,350.73 298.66,351.32 299.34,351.91 300.02,352.50 300.70,353.10 301.37,353.70 302.05,354.30 302.73,354.91 303.41,355.52 304.08,356.13 304.76,356.74 305.44,357.36 306.12,357.98 306.79,358.60 307.47,359.22 308.15,359.85 308.83,360.48 309.50,361.11 310.18,361.74 310.86,362.38 311.54,363.02 312.22,363.66 312.89,364.30 313.57,364.94 314.25,365.59 314.93,366.23 315.60,366.88 316.28,367.53 316.96,368.19 317.64,368.84 318.31,369.50 318.99,370.15 319.67,370.81 320.35,371.47 321.02,372.13 321.70,372.80 322.38,373.46 323.06,374.13 323.73,374.80 324.41,375.46 325.09,376.13 325.77,376.81 326.44,377.48 327.12,378.15 327.80,378.83 328.48,379.50 329.15,380.18 329.83,380.86 330.51,381.53 331.19,382.21 331.87,382.89 332.54,383.58 333.22,384.26 333.90,384.94 334.58,385.63 335.25,386.31 335.93,387.00 336.61,387.68 337.29,388.37 337.96,389.06 338.64,389.75 339.32,390.44 340.00,391.13 340.67,391.82 341.35,392.51 342.03,393.20 342.71,393.89 343.38,394.59 344.06,395.28 344.74,395.97 345.42,396.67 346.09,397.36 346.77,398.06 347.45,398.76 348.13,399.45 348.81,400.15 349.48,400.85 350.16,401.55 350.84,402.24 351.52,402.94 352.19,403.64 352.87,404.34 353.55,405.04 354.23,405.74 354.90,406.44 355.58,407.14 356.26,407.84 356.94,408.55 357.61,409.25 358.29,409.95 358.97,410.65 359.65,411.35 360.32,412.06 361.00,412.76 361.68,413.46 362.36,414.17 363.03,414.87 363.71,415.58 364.39,416.28 365.07,416.98 365.74,417.69 366.42,418.39 367.10,419.10" fill="none" stroke="#2a4aff" stroke-width="1.25" stroke-dasharray="3 0.3" stroke-linejoin="round"/>
<polyline points="164.50,299.26 165.18,299.26 165.86,299.27 166.53,299.28 167.21,299.29 167.89,299.30 168.57,299.30 169.24,299.31 169.92,299.32 170.60,299.33 171.28,299.34 171.95,299.35 172.63,299.36 173.31,299.38 173.99,299.39 174.66,299.40 175.34,299.41 176.02,299.42 176.70,299.44 177.37,299.45 178.05,299.46 178.73,299.48 179.41,299.49 180.08,299.51 180.76,299.52 181.44,299.54 182.12,299.55 182.79,299.57 183.47,299.59 184.15,299.61 184.83,299.63 185.51,299.64 186.18,299.66 186.86,299.68 187.54,299.71 188.22,299.73 188.89,299.75 189.57,299.77 190.25,299.80 190.93,299.82 191.60,299.85 192.28,299.87 192.96,299.90 193.64,299.93 194.31,299.95 194.99,299.98 195.67,300.01 196.35,300.05 197.02,300.08 197.70,300.11 198.38,300.14 199.06,300.18 199.73,300.22 200.41,300.25 201.09,300.29 201.77,300.33 202.45,300.37 203.12,300.41 203.80,300.46 204.48,300.50 205.16,300.55 205.83,300.59 206.51,300.64 207.19,300.69 207.87,300.74 208.54,300.80 209.22,300.85 209.90,300.91 210.58,300.96 211.25,301.02 211.93,301.08 212.61,301.15 213.29,301.21 213.96,301.28 214.64,301.34 215.32,301.41 216.00,301.49 216.67,301.56 217.35,301.64 218.03,301.71 218.71,301.79 219.38,301.88 220.06,301.96 220.74,302.05 221.42,302.14 222.10,302.23 222.77,302.33 223.45,302.42 224.13,302.52 224.81,302.63 225.48,302.73 226.16,302.84 226.84,302.95 227.52,303.06 228.19,303.18 228.87,303.30 229.55,303.42 230.23,303.55 230.90,303.68 231.58,303.81 232.26,303.95 232.94,304.09 233.61,304.23 234.29,304.38 234.97,304.53 235.65,304.68 236.32,304.84 237.00,305.00 237.68,305.17 238.36,305.34 239.04,305.51 239.71,305.69 240.39,305.87 241.07,306.06 241.75,306.25 242.42,306.44 243.10,306.64 243.78,306.84 244.46,307.05 245.13,307.26 245.81,307.48 246.49,307.70 247.17,307.93 247.84,308.16 248.52,308.40 249.20,308.64 249.88,308.89 250.55,309.14 251.23,309.39 251.91,309.65 252.59,309.92 253.26,310.19 253.94,310.47 254.62,310.75 255.30,311.04 255.97,311.33 256.65,311.63 257.33,311.93 258.01,312.24 258.69,312.56 259.36,312.88 260.04,313.20 260.72,313.53 261.40,313.87 262.07,314.21 262.75,314.56 263.43,314.91 264.11,315.27 264.78,315.63 265.46,316.00 266.14,316.37 266.82,316.75 267.49,317.14 268.17,317.53 268.85,317.93 269.53,318.33 270.20,318.73 270.88,319.15 271.56,319.56 272.24,319.99 272.91,320.42 273.59,320.85 274.27,321.29 274.95,321.73 275.63,322.18 276.30,322.64 276.98,323.10 277.66,323.56 278.34,324.03 279.01,324.51 279.69,324.99 280.37,325.47 281.05,325.96 281.72,326.45 282.40,326.95 283.08,327.45 283.76,327.96 284.43,328.47 285.11,328.99 285.79,329.51 286.47,330.04 287.14,330.57 287.82,331.10 288.50,331.64 289.18,332.18 289.85,332.72 290.53,333.27 291.21,333.83 291.89,334.39 292.56,334.95 293.24,335.51 293.92,336.08 294.60,336.65 295.28,337.23 295.95,337.81 296.63,338.39 297.31,338.97 297.99,339.56 298.66,340.15 299.34,340.75 300.02,341.35 300.70,341.95 301.37,342.55 302.05,343.16 302.73,343.77 303.41,344.38 304.08,345.00 304.76,345.61 305.44,346.23 306.12,346.86 306.79,347.48 307.47,348.11 308.15,348.74 308.83,349.37 309.50,350.00 310.18,350.64 310.86,351.28 311.54,351.92 312.22,352.56 312.89,353.20 313.57,353.85 314.25,354.50 314.93,355.15 315.60,355.80 316.28,356.45 316.96,357.11 317.64,357.77 318.31,358.43 318.99,359.08 319.67,359.75 320.35,360.41 321.02,361.07 321.70,361.74 322.38,362.41 323.06,363.08 323.73,363.75 324.41,364.42 325.09,365.09 325.77,365.76 326.44,366.44 327.12,367.11 327.80,367.79 328.48,368.47 329.15,369.15 329.83,369.83 330.51,370.51 331.19,371.19 331.87,371.87 332.54,372.56 333.22,373.24 333.90,373.93 334.58,374.61 335.25,375.30 335.93,375.99 336.61,376.68 337.29,377.37 337.96,378.06 338.64,378.75 339.32,379.44 340.00,380.13 340.67,380.82 341.35,381.52 342.03,382.21 342.71,382.91 343.38,383.60 344.06,384.30 344.74,384.99 345.42,385.69 346.09,386.39 346.77,387.08 347.45,387.78 348.13,388.48 348.81,389.18 349.48,389.88 350.16,390.58 350.84,391.28 351.52,391.98 352.19,392.68 352.87,393.38 353.55,394.09 354.23,394.79 354.90,395.49 355.58,396.19 356.26,396.90 356.94,397.60 357.61,398.31 358.29,399.01 358.97,399.71 359.65,400.42 360.32,401.12 361.00,401.83 361.68,402.54 362.36,403.24 363.03,403.95 363.71,404.65 364.39,405.36 365.07,406.07 365.74,406.77 366.42,407.48 367.10,408.19" fill="none" stroke="#3cec2c" stroke-width="1.4" stroke-linejoin="round"/>
<polyline points="164.50,292.16 165.18,292.17 165.86,292.18 166.53,292.20 167.21,292.21 167.89,292.22 168.57,292.24 169.24,292.25 169.92,292.27 170.60,292.28 171.28,292.30 171.95,292.31 172.63,292.33 173.31,292.35 173.99,292.36 174.66,292.38 175.34,292.40 176.02,292.41 176.70,292.43 177.37,292.45 178.05,292.47 178.73,292.49 179.41,292.51 180.08,292.53 180.76,292.55 181.44,292.57 182.12,292.59 182.79,292.61 183.47,292.63 184.15,292.66 184.83,292.68 185.51,292.70 186.18,292.73 186.86,292.75 187.54,292.78 188.22,292.80 188.89,292.83 189.57,292.86 190.25,292.89 190.93,292.92 191.60,292.95 192.28,292.98 192.96,293.01 193.64,293.04 194.31,293.07 194.99,293.10 195.67,293.14 196.35,293.17 197.02,293.21 197.70,293.25 198.38,293.29 199.06,293.33 199.73,293.37 200.41,293.41 201.09,293.45 201.77,293.49 202.45,293.54 203.12,293.58 203.80,293.63 204.48,293.68 205.16,293.73 205.83,293.78 206.51,293.83 207.19,293.88 207.87,293.94 208.54,294.00 209.22,294.05 209.90,294.11 210.58,294.17 211.25,294.24 211.93,294.30 212.61,294.37 213.29,294.44 213.96,294.51 214.64,294.58 215.32,294.65 216.00,294.73 216.67,294.80 217.35,294.88 218.03,294.97 218.71,295.05 219.38,295.14 220.06,295.22 220.74,295.32 221.42,295.41 222.10,295.50 222.77,295.60 223.45,295.70 224.13,295.81 224.81,295.91 225.48,296.02 226.16,296.13 226.84,296.25 227.52,296.36 228.19,296.48 228.87,296.61 229.55,296.73 230.23,296.86 230.90,296.99 231.58,297.13 232.26,297.27 232.94,297.41 233.61,297.56 234.29,297.71 234.97,297.86 235.65,298.02 236.32,298.18 237.00,298.34 237.68,298.51 238.36,298.68 239.04,298.86 239.71,299.04 240.39,299.22 241.07,299.41 241.75,299.60 242.42,299.80 243.10,300.00 243.78,300.21 244.46,300.42 245.13,300.63 245.81,300.85 246.49,301.07 247.17,301.30 247.84,301.54 248.52,301.77 249.20,302.02 249.88,302.26 250.55,302.52 251.23,302.77 251.91,303.04 252.59,303.31 253.26,303.58 253.94,303.86 254.62,304.14 255.30,304.43 255.97,304.72 256.65,305.02 257.33,305.32 258.01,305.63 258.69,305.95 259.36,306.27 260.04,306.59 260.72,306.93 261.40,307.26 262.07,307.60 262.75,307.95 263.43,308.30 264.11,308.66 264.78,309.03 265.46,309.39 266.14,309.77 266.82,310.15 267.49,310.53 268.17,310.92 268.85,311.32 269.53,311.72 270.20,312.13 270.88,312.54 271.56,312.96 272.24,313.38 272.91,313.81 273.59,314.24 274.27,314.68 274.95,315.12 275.63,315.57 276.30,316.02 276.98,316.48 277.66,316.95 278.34,317.41 279.01,317.89 279.69,318.36 280.37,318.85 281.05,319.34 281.72,319.83 282.40,320.32 283.08,320.83 283.76,321.33 284.43,321.84 285.11,322.36 285.79,322.88 286.47,323.40 287.14,323.93 287.82,324.46 288.50,324.99 289.18,325.53 289.85,326.08 290.53,326.62 291.21,327.18 291.89,327.73 292.56,328.29 293.24,328.85 293.92,329.42 294.60,329.99 295.28,330.56 295.95,331.14 296.63,331.72 297.31,332.30 297.99,332.89 298.66,333.48 299.34,334.07 300.02,334.67 300.70,335.26 301.37,335.87 302.05,336.47 302.73,337.08 303.41,337.69 304.08,338.30 304.76,338.91 305.44,339.53 306.12,340.15 306.79,340.77 307.47,341.40 308.15,342.02 308.83,342.65 309.50,343.29 310.18,343.92 310.86,344.55 311.54,345.19 312.22,345.83 312.89,346.47 313.57,347.12 314.25,347.76 314.93,348.41 315.60,349.06 316.28,349.71 316.96,350.36 317.64,351.02 318.31,351.67 318.99,352.33 319.67,352.99 320.35,353.65 321.02,354.31 321.70,354.97 322.38,355.64 323.06,356.30 323.73,356.97 324.41,357.64 325.09,358.31 325.77,358.98 326.44,359.65 327.12,360.32 327.80,360.99 328.48,361.67 329.15,362.34 329.83,363.02 330.51,363.70 331.19,364.38 331.87,365.06 332.54,365.74 333.22,366.42 333.90,367.10 334.58,367.79 335.25,368.47 335.93,369.15 336.61,369.84 337.29,370.53 337.96,371.21 338.64,371.90 339.32,372.59 340.00,373.28 340.67,373.97 341.35,374.66 342.03,375.35 342.71,376.04 343.38,376.73 344.06,377.42 344.74,378.11 345.42,378.81 346.09,379.50 346.77,380.19 347.45,380.89 348.13,381.58 348.81,382.28 349.48,382.98 350.16,383.67 350.84,384.37 351.52,385.07 352.19,385.76 352.87,386.46 353.55,387.16 354.23,387.86 354.90,388.56 355.58,389.26 356.26,389.95 356.94,390.65 357.61,391.35 358.29,392.05 358.97,392.75 359.65,393.46 360.32,394.16 361.00,394.86 361.68,395.56 362.36,396.26 363.03,396.96 363.71,397.66 364.39,398.37 365.07,399.07 365.74,399.77 366.42,400.47 367.10,401.18" fill="none" stroke="#aa40f2" stroke-width="1.3" stroke-dasharray="6 0.5 1.6 0.5" stroke-linejoin="round"/>
<polyline points="164.50,285.15 165.18,285.16 165.86,285.17 166.53,285.17 167.21,285.18 167.89,285.18 168.57,285.19 169.24,285.20 169.92,285.21 170.60,285.21 171.28,285.22 171.95,285.23 172.63,285.24 173.31,285.24 173.99,285.25 174.66,285.26 175.34,285.27 176.02,285.28 176.70,285.29 177.37,285.30 178.05,285.31 178.73,285.32 179.41,285.33 180.08,285.34 180.76,285.35 181.44,285.36 182.12,285.37 182.79,285.38 183.47,285.39 184.15,285.41 184.83,285.42 185.51,285.43 186.18,285.44 186.86,285.46 187.54,285.47 188.22,285.49 188.89,285.50 189.57,285.52 190.25,285.53 190.93,285.55 191.60,285.56 192.28,285.58 192.96,285.60 193.64,285.61 194.31,285.63 194.99,285.65 195.67,285.67 196.35,285.69 197.02,285.71 197.70,285.73 198.38,285.75 199.06,285.78 199.73,285.80 200.41,285.82 201.09,285.85 201.77,285.87 202.45,285.90 203.12,285.92 203.80,285.95 204.48,285.98 205.16,286.01 205.83,286.04 206.51,286.07 207.19,286.10 207.87,286.13 208.54,286.16 209.22,286.20 209.90,286.23 210.58,286.27 211.25,286.30 211.93,286.34 212.61,286.38 213.29,286.42 213.96,286.46 214.64,286.50 215.32,286.55 216.00,286.59 216.67,286.64 217.35,286.69 218.03,286.74 218.71,286.79 219.38,286.84 220.06,286.89 220.74,286.94 221.42,287.00 222.10,287.06 222.77,287.12 223.45,287.18 224.13,287.24 224.81,287.31 225.48,287.37 226.16,287.44 226.84,287.51 227.52,287.58 228.19,287.65 228.87,287.73 229.55,287.81 230.23,287.89 230.90,287.97 231.58,288.05 232.26,288.14 232.94,288.23 233.61,288.32 234.29,288.41 234.97,288.51 235.65,288.61 236.32,288.71 237.00,288.81 237.68,288.92 238.36,289.03 239.04,289.14 239.71,289.25 240.39,289.37 241.07,289.49 241.75,289.61 242.42,289.74 243.10,289.87 243.78,290.00 244.46,290.14 245.13,290.28 245.81,290.42 246.49,290.57 247.17,290.72 247.84,290.87 248.52,291.03 249.20,291.19 249.88,291.36 250.55,291.52 251.23,291.70 251.91,291.87 252.59,292.05 253.26,292.24 253.94,292.43 254.62,292.62 255.30,292.81 255.97,293.02 256.65,293.22 257.33,293.43 258.01,293.65 258.69,293.86 259.36,294.09 260.04,294.31 260.72,294.55 261.40,294.78 262.07,295.03 262.75,295.27 263.43,295.52 264.11,295.78 264.78,296.04 265.46,296.31 266.14,296.58 266.82,296.85 267.49,297.14 268.17,297.42 268.85,297.71 269.53,298.01 270.20,298.31 270.88,298.62 271.56,298.93 272.24,299.25 272.91,299.57 273.59,299.89 274.27,300.23 274.95,300.57 275.63,300.91 276.30,301.26 276.98,301.61 277.66,301.97 278.34,302.33 279.01,302.70 279.69,303.08 280.37,303.46 281.05,303.84 281.72,304.23 282.40,304.63 283.08,305.03 283.76,305.44 284.43,305.85 285.11,306.27 285.79,306.69 286.47,307.11 287.14,307.55 287.82,307.98 288.50,308.43 289.18,308.87 289.85,309.32 290.53,309.78 291.21,310.24 291.89,310.71 292.56,311.18 293.24,311.66 293.92,312.14 294.60,312.62 295.28,313.11 295.95,313.61 296.63,314.11 297.31,314.61 297.99,315.12 298.66,315.63 299.34,316.15 300.02,316.67 300.70,317.19 301.37,317.72 302.05,318.25 302.73,318.79 303.41,319.33 304.08,319.88 304.76,320.43 305.44,320.98 306.12,321.53 306.79,322.09 307.47,322.66 308.15,323.23 308.83,323.80 309.50,324.37 310.18,324.95 310.86,325.53 311.54,326.11 312.22,326.70 312.89,327.29 313.57,327.88 314.25,328.48 314.93,329.08 315.60,329.68 316.28,330.29 316.96,330.89 317.64,331.50 318.31,332.12 318.99,332.73 319.67,333.35 320.35,333.97 321.02,334.60 321.70,335.22 322.38,335.85 323.06,336.48 323.73,337.11 324.41,337.75 325.09,338.38 325.77,339.02 326.44,339.66 327.12,340.30 327.80,340.95 328.48,341.60 329.15,342.24 329.83,342.89 330.51,343.55 331.19,344.20 331.87,344.86 332.54,345.51 333.22,346.17 333.90,346.83 334.58,347.49 335.25,348.16 335.93,348.82 336.61,349.49 337.29,350.15 337.96,350.82 338.64,351.49 339.32,352.16 340.00,352.84 340.67,353.51 341.35,354.18 342.03,354.86 342.71,355.54 343.38,356.21 344.06,356.89 344.74,357.57 345.42,358.25 346.09,358.94 346.77,359.62 347.45,360.30 348.13,360.99 348.81,361.67 349.48,362.36 350.16,363.05 350.84,363.74 351.52,364.42 352.19,365.11 352.87,365.80 353.55,366.49 354.23,367.19 354.90,367.88 355.58,368.57 356.26,369.26 356.94,369.96 357.61,370.65 358.29,371.35 358.97,372.04 359.65,372.74 360.32,373.44 361.00,374.13 361.68,374.83 362.36,375.53 363.03,376.23 363.71,376.93 364.39,377.63 365.07,378.33 365.74,379.03 366.42,379.73 367.10,380.43" fill="none" stroke="#1f3aff" stroke-width="1.5" stroke-linejoin="round"/>
<polyline points="164.50,305.53 165.18,305.51 165.86,305.49 166.53,305.46 167.21,305.44 167.89,305.42 168.57,305.40 169.24,305.38 169.92,305.36 170.60,305.34 171.28,305.33 171.95,305.31 172.63,305.29 173.31,305.28 173.99,305.26 174.66,305.25 175.34,305.24 176.02,305.22 176.70,305.21 177.37,305.20 178.05,305.19 178.73,305.18 179.41,305.18 180.08,305.17 180.76,305.16 181.44,305.16 182.12,305.15 182.79,305.15 183.47,305.15 184.15,305.15 184.83,305.14 185.51,305.15 186.18,305.15 186.86,305.15 187.54,305.15 188.22,305.16 188.89,305.17 189.57,305.17 190.25,305.18 190.93,305.19 191.60,305.20 192.28,305.21 192.96,305.23 193.64,305.24 194.31,305.26 194.99,305.28 195.67,305.30 196.35,305.32 197.02,305.34 197.70,305.36 198.38,305.39 199.06,305.42 199.73,305.45 200.41,305.48 201.09,305.51 201.77,305.54 202.45,305.58 203.12,305.62 203.80,305.66 204.48,305.70 205.16,305.74 205.83,305.79 206.51,305.83 207.19,305.88 207.87,305.94 208.54,305.99 209.22,306.05 209.90,306.11 210.58,306.17 211.25,306.23 211.93,306.30 212.61,306.36 213.29,306.44 213.96,306.51 214.64,306.59 215.32,306.66 216.00,306.75 216.67,306.83 217.35,306.92 218.03,307.01 218.71,307.10 219.38,307.20 220.06,307.30 220.74,307.40 221.42,307.51 222.10,307.62 222.77,307.73 223.45,307.84 224.13,307.96 224.81,308.09 225.48,308.21 226.16,308.34 226.84,308.47 227.52,308.61 228.19,308.75 228.87,308.89 229.55,309.04 230.23,309.19 230.90,309.35 231.58,309.51 232.26,309.67 232.94,309.84 233.61,310.01 234.29,310.18 234.97,310.36 235.65,310.54 236.32,310.73 237.00,310.92 237.68,311.11 238.36,311.31 239.04,311.51 239.71,311.72 240.39,311.93 241.07,312.14 241.75,312.36 242.42,312.58 243.10,312.81 243.78,313.04 244.46,313.28 245.13,313.52 245.81,313.76 246.49,314.01 247.17,314.26 247.84,314.51 248.52,314.77 249.20,315.03 249.88,315.30 250.55,315.57 251.23,315.85 251.91,316.12 252.59,316.41 253.26,316.69 253.94,316.98 254.62,317.28 255.30,317.57 255.97,317.87 256.65,318.18 257.33,318.49 258.01,318.80 258.69,319.11 259.36,319.43 260.04,319.75 260.72,320.08 261.40,320.41 262.07,320.74 262.75,321.08 263.43,321.41 264.11,321.76 264.78,322.10 265.46,322.45 266.14,322.80 266.82,323.15 267.49,323.51 268.17,323.87 268.85,324.23 269.53,324.60 270.20,324.97 270.88,325.34 271.56,325.71 272.24,326.09 272.91,326.47 273.59,326.85 274.27,327.24 274.95,327.62 275.63,328.01 276.30,328.41 276.98,328.80 277.66,329.20 278.34,329.60 279.01,330.00 279.69,330.40 280.37,330.81 281.05,331.22 281.72,331.63 282.40,332.04 283.08,332.46 283.76,332.87 284.43,333.29 285.11,333.71 285.79,334.14 286.47,334.56 287.14,334.99 287.82,335.42 288.50,335.85 289.18,336.28 289.85,336.72 290.53,337.16 291.21,337.60 291.89,338.04 292.56,338.48 293.24,338.92 293.92,339.37 294.60,339.82 295.28,340.27 295.95,340.72 296.63,341.18 297.31,341.63 297.99,342.09 298.66,342.55 299.34,343.01 300.02,343.47 300.70,343.94 301.37,344.40 302.05,344.87 302.73,345.34 303.41,345.81 304.08,346.29 304.76,346.76 305.44,347.24 306.12,347.72 306.79,348.20 307.47,348.68 308.15,349.16 308.83,349.65 309.50,350.13 310.18,350.62 310.86,351.11 311.54,351.61 312.22,352.10 312.89,352.60 313.57,353.09 314.25,353.59 314.93,354.09 315.60,354.60 316.28,355.10 316.96,355.61 317.64,356.11 318.31,356.62 318.99,357.14 319.67,357.65 320.35,358.16 321.02,358.68 321.70,359.20 322.38,359.72 323.06,360.24 323.73,360.77 324.41,361.29 325.09,361.82 325.77,362.35 326.44,362.88 327.12,363.41 327.80,363.95 328.48,364.48 329.15,365.02 329.83,365.56 330.51,366.10 331.19,366.65 331.87,367.19 332.54,367.74 333.22,368.29 333.90,368.84 334.58,369.39 335.25,369.95 335.93,370.50 336.61,371.06 337.29,371.62 337.96,372.18 338.64,372.74 339.32,373.31 340.00,373.87 340.67,374.44 341.35,375.01 342.03,375.58 342.71,376.15 343.38,376.73 344.06,377.30 344.74,377.88 345.42,378.45 346.09,379.03 346.77,379.61 347.45,380.19 348.13,380.77 348.81,381.36 349.48,381.94 350.16,382.52 350.84,383.11 351.52,383.69 352.19,384.28 352.87,384.86 353.55,385.45 354.23,386.04 354.90,386.62 355.58,387.21 356.26,387.79 356.94,388.38 357.61,388.96 358.29,389.54 358.97,390.12 359.65,390.70 360.32,391.28 361.00,391.85 361.68,392.43 362.36,393.00 363.03,393.57 363.71,394.13 364.39,394.69 365.07,395.25 365.74,395.80 366.42,396.35 367.10,396.90" fill="none" stroke="#ff3d4c" stroke-width="1.2" stroke-dasharray="3.2 0.4" stroke-linejoin="round"/>
<path d="M164.5,266.3 V426.5 H367.6" fill="none" stroke="#000" stroke-width="1"/>
<path d="M164.5,426.68h2.6 M164.5,418.63h1.5 M164.5,413.93h1.5 M164.5,410.59h1.5 M164.5,408.00h1.5 M164.5,405.88h1.5 M164.5,404.09h1.5 M164.5,402.54h1.5 M164.5,401.17h1.5 M164.5,399.95h2.6 M164.5,391.90h1.5 M164.5,387.20h1.5 M164.5,383.86h1.5 M164.5,381.27h1.5 M164.5,379.15h1.5 M164.5,377.36h1.5 M164.5,375.81h1.5 M164.5,374.44h1.5 M164.5,373.22h2.6 M164.5,365.17h1.5 M164.5,360.47h1.5 M164.5,357.13h1.5 M164.5,354.54h1.5 M164.5,352.42h1.5 M164.5,350.63h1.5 M164.5,349.08h1.5 M164.5,347.71h1.5 M164.5,346.49h2.6 M164.5,338.44h1.5 M164.5,333.74h1.5 M164.5,330.40h1.5 M164.5,327.81h1.5 M164.5,325.69h1.5 M164.5,323.90h1.5 M164.5,322.35h1.5 M164.5,320.98h1.5 M164.5,319.76h2.6 M164.5,311.71h1.5 M164.5,307.01h1.5 M164.5,303.67h1.5 M164.5,301.08h1.5 M164.5,298.96h1.5 M164.5,297.17h1.5 M164.5,295.62h1.5 M164.5,294.25h1.5 M164.5,293.03h2.6 M164.5,284.98h1.5 M164.5,280.28h1.5 M164.5,276.94h1.5 M164.5,274.35h1.5 M164.5,272.23h1.5 M164.5,270.44h1.5 M164.5,268.89h1.5 M164.5,267.52h1.5 M164.5,266.30h2.6 M164.50,426.5v-2.6 M235.31,426.5v-1.5 M217.47,426.5v-1.5 M204.81,426.5v-1.5 M194.99,426.5v-1.5 M186.97,426.5v-1.5 M180.19,426.5v-1.5 M174.32,426.5v-1.5 M169.14,426.5v-1.5 M265.80,426.5v-2.6 M336.61,426.5v-1.5 M318.77,426.5v-1.5 M306.11,426.5v-1.5 M296.29,426.5v-1.5 M288.27,426.5v-1.5 M281.49,426.5v-1.5 M275.62,426.5v-1.5 M270.44,426.5v-1.5 M367.10,426.5v-2.6" fill="none" stroke="#000" stroke-width="0.8"/>
<text x="161.10" y="429.88" text-anchor="end" class="tk">10<tspan dx="0.5" dy="-5.0" class="sup">-3</tspan></text>
<text x="161.10" y="403.15" text-anchor="end" class="tk">10<tspan dx="0.5" dy="-5.0" class="sup">-2</tspan></text>
<text x="161.10" y="376.42" text-anchor="end" class="tk">10<tspan dx="0.5" dy="-5.0" class="sup">-1</tspan></text>
<text x="161.10" y="349.69" text-anchor="end" class="tk">10<tspan dx="0.5" dy="-5.0" class="sup">0</tspan></text>
<text x="161.10" y="322.96" text-anchor="end" class="tk">10<tspan dx="0.5" dy="-5.0" class="sup">1</tspan></text>
<text x="161.10" y="296.23" text-anchor="end" class="tk">10<tspan dx="0.5" dy="-5.0" class="sup">2</tspan></text>
<text x="161.10" y="269.50" text-anchor="end" class="tk">10<tspan dx="0.5" dy="-5.0" class="sup">3</tspan></text>
<text x="152.20" y="442.00" class="tk">10<tspan dx="0.2" dy="-6.6" class="sup">2</tspan></text>
<text x="254.50" y="442.00" class="tk">10<tspan dx="0.2" dy="-6.6" class="sup">1</tspan></text>
<text x="356.50" y="442.00" class="tk">10<tspan dx="0.2" dy="-6.6" class="sup">0</tspan></text>
<line x1="301.5" y1="256.00" x2="333.3" y2="256.00" stroke="#1f3aff" stroke-width="1.3"/>
<text x="336.2" y="258.80" class="lg" xml:space="preserve">USA level 5</text>
<line x1="301.5" y1="265.10" x2="333.3" y2="265.10" stroke="#aa38f2" stroke-width="1.3" stroke-dasharray="5.4 1.7 1.4 1.7"/>
<text x="336.2" y="267.90" class="lg" xml:space="preserve">USA level 6</text>
<line x1="301.5" y1="275.70" x2="333.3" y2="275.70" stroke="#3cec2c" stroke-width="1.5"/>
<text x="336.2" y="278.50" class="lg" xml:space="preserve">Germany high level</text>
<line x1="301.5" y1="286.40" x2="333.3" y2="286.40" stroke="#2a4aff" stroke-width="1.3" stroke-dasharray="12.2 4.9"/>
<text x="336.2" y="289.20" class="lg" xml:space="preserve">Germany low level</text>
<line x1="301.5" y1="295.50" x2="333.3" y2="295.50" stroke="#ff3d4c" stroke-width="1.2" stroke-dasharray="2 1.45"/>
<text x="336.2" y="298.30" class="lg" xml:space="preserve">China railway</text>
<line x1="301.5" y1="306.20" x2="333.3" y2="306.20" stroke="#151515" stroke-width="1.3"/>
<text x="336.2" y="309.00" class="lg" xml:space="preserve" style="word-spacing:0px">He - Wu PDL</text>
<text x="128.0" y="258.2" class="pl">(c)</text>
<text x="231.1" y="459.3" textLength="73.0" lengthAdjust="spacingAndGlyphs" class="xt">Wavelength /m</text>
<text transform="translate(137.8,351.4) rotate(-90)" x="-72.6" textLength="145.2" lengthAdjust="spacingAndGlyphs" class="yt">Track Irregularity PSD /(mm2 m)</text>
</svg>
</body></html>
